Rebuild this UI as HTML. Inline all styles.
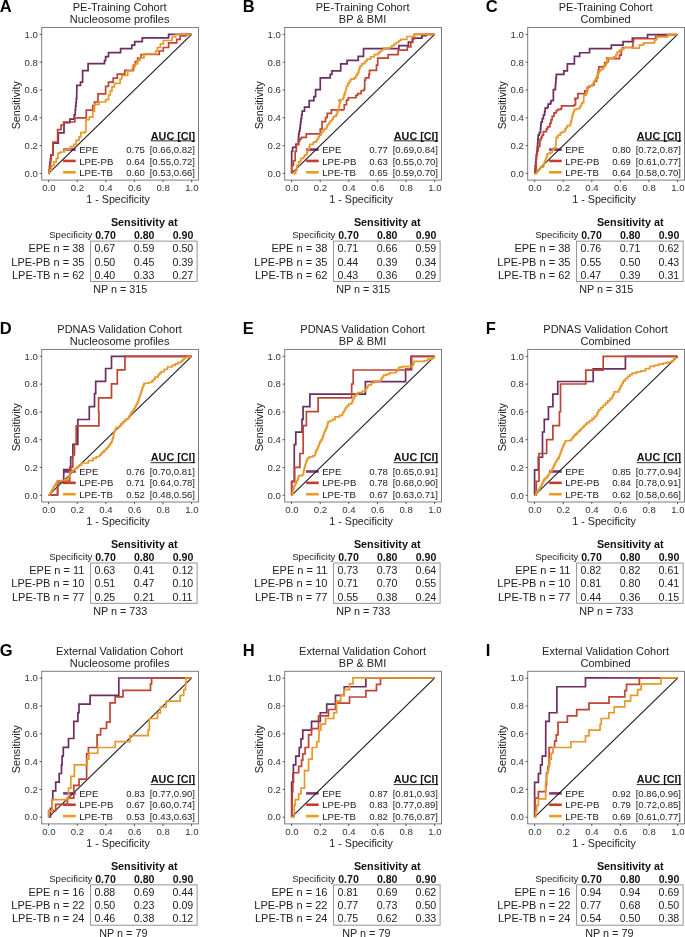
<!DOCTYPE html>
<html><head><meta charset="utf-8"><style>
html,body{margin:0;padding:0;background:#fff;width:685px;height:937px;overflow:hidden}
svg{display:block;font-family:"Liberation Sans", sans-serif;will-change:transform}
</style></head><body>
<svg width="685" height="937" viewBox="0 0 685 937">
<g transform="translate(0,0)">
<text x="-0.20" y="11.70" font-size="16.5" text-anchor="start" font-weight="bold" fill="#000">A</text>
<text x="119.60" y="11.00" font-size="11" text-anchor="middle" fill="#222">PE-Training Cohort</text>
<text x="119.60" y="23.10" font-size="11" text-anchor="middle" fill="#222">Nucleosome profiles</text>
<line x1="63.1" y1="149.60" x2="75.7" y2="149.60" stroke="#8A3377" stroke-width="2.6"/>
<line x1="63.1" y1="160.95" x2="75.7" y2="160.95" stroke="#C33C2D" stroke-width="2.6"/>
<line x1="63.1" y1="172.30" x2="75.7" y2="172.30" stroke="#E89C20" stroke-width="2.6"/>
<line x1="48.60" y1="173.40" x2="191.60" y2="34.40" stroke="#1a1a1a" stroke-width="1.1"/>
<polyline points="48.70,173.40 49.14,173.40 49.14,169.74 49.58,169.74 49.58,166.08 50.02,166.08 50.02,162.42 50.46,162.42 50.46,158.76 50.90,158.76 50.90,155.10 53.00,155.10 53.00,143.10 58.30,143.10 58.30,132.90 64.00,132.90 64.00,122.70 69.90,122.70 69.90,119.20 74.20,119.20 74.20,114.90 75.20,114.90 75.20,110.00 75.58,110.00 75.58,106.25 75.95,106.25 75.95,102.50 76.33,102.50 76.33,98.75 76.70,98.75 76.70,95.00 76.90,85.30 80.50,85.30 80.50,82.10 82.60,82.10 82.60,70.70 88.10,70.70 88.10,63.70 104.50,63.70 104.50,60.50 105.60,60.50 105.60,56.70 108.50,56.70 108.50,52.60 120.60,52.60 120.60,48.70 131.80,48.70 131.80,45.20 134.70,45.20 134.70,41.70 142.30,41.70 142.30,37.90 168.60,37.90 168.60,34.40 191.60,34.40" fill="none" stroke="#6C2D5F" stroke-width="1.7" stroke-linejoin="miter"/>
<polyline points="48.70,173.40 49.22,173.40 49.22,169.74 49.74,169.74 49.74,166.08 50.26,166.08 50.26,162.42 50.78,162.42 50.78,158.76 51.30,158.76 51.30,155.10 53.00,155.10 53.00,142.00 57.60,142.00 57.60,129.70 61.10,129.70 61.10,125.10 63.60,125.10 63.60,122.00 74.90,122.00 74.90,117.80 86.30,117.80 86.30,110.20 92.80,110.20 92.80,105.50 94.50,105.50 94.50,102.00 98.00,102.00 98.00,93.90 105.60,93.90 105.60,86.30 108.50,86.30 108.50,82.20 113.20,82.20 113.20,78.10 117.30,78.10 117.30,74.20 124.80,74.20 124.80,70.30 133.50,70.30 133.50,65.00 135.30,65.00 135.30,61.50 137.60,61.50 137.60,58.00 141.10,58.00 141.10,54.50 159.20,54.50 159.20,51.00 163.30,51.00 163.30,47.50 168.60,47.50 168.60,42.80 176.70,42.80 176.70,39.30 180.20,39.30 180.20,35.80 186.00,35.80 186.00,34.40 191.60,34.40" fill="none" stroke="#BF4434" stroke-width="1.7" stroke-linejoin="miter"/>
<polyline points="48.70,173.30 49.30,173.30 49.30,170.10 51.60,170.10 51.60,165.40 53.90,165.40 53.90,161.90 56.30,161.90 56.30,158.40 58.00,158.40 58.00,153.10 60.40,153.10 60.40,152.00 64.40,152.00 64.40,149.60 70.30,149.60 70.30,146.70 73.80,146.70 73.80,144.40 76.10,144.40 76.10,140.30 79.00,140.30 79.00,136.80 80.80,136.80 80.80,132.70 84.90,132.70 84.90,131.50 86.00,131.50 86.00,119.60 89.30,119.60 89.30,117.20 92.80,117.20 92.80,111.40 94.50,111.40 94.50,104.40 99.20,104.40 99.20,102.00 105.60,102.00 105.60,99.70 108.50,99.70 108.50,95.00 110.30,95.00 110.30,90.90 112.00,90.90 112.00,86.90 114.40,86.90 114.40,83.40 120.10,83.40 120.10,79.00 121.80,79.00 121.80,75.50 127.70,75.50 127.70,70.90 132.40,70.90 132.40,67.40 134.70,67.40 134.70,63.90 137.60,63.90 137.60,60.40 139.90,60.40 139.90,58.00 144.00,58.00 144.00,53.90 155.70,53.90 155.70,51.00 157.50,51.00 157.50,47.50 160.40,47.50 160.40,44.00 163.30,44.00 163.30,40.50 172.10,40.50 172.10,37.00 175.60,37.00 175.60,34.50 191.60,34.40" fill="none" stroke="#E8982A" stroke-width="1.7" stroke-linejoin="miter"/>
<rect x="41.7" y="27.5" width="156.8" height="152.6" fill="none" stroke="#777" stroke-width="0.95"/>
<line x1="39.6" y1="173.40" x2="41.7" y2="173.40" stroke="#333" stroke-width="0.8"/>
<line x1="48.60" y1="180.1" x2="48.60" y2="182.2" stroke="#333" stroke-width="0.8"/>
<text x="37.90" y="176.70" font-size="9.6" text-anchor="end" fill="#333">0.0</text>
<text x="48.80" y="190.80" font-size="9.6" text-anchor="middle" fill="#333">0.0</text>
<line x1="39.6" y1="145.60" x2="41.7" y2="145.60" stroke="#333" stroke-width="0.8"/>
<line x1="77.20" y1="180.1" x2="77.20" y2="182.2" stroke="#333" stroke-width="0.8"/>
<text x="37.90" y="148.90" font-size="9.6" text-anchor="end" fill="#333">0.2</text>
<text x="77.40" y="190.80" font-size="9.6" text-anchor="middle" fill="#333">0.2</text>
<line x1="39.6" y1="117.80" x2="41.7" y2="117.80" stroke="#333" stroke-width="0.8"/>
<line x1="105.80" y1="180.1" x2="105.80" y2="182.2" stroke="#333" stroke-width="0.8"/>
<text x="37.90" y="121.10" font-size="9.6" text-anchor="end" fill="#333">0.4</text>
<text x="106.00" y="190.80" font-size="9.6" text-anchor="middle" fill="#333">0.4</text>
<line x1="39.6" y1="90.00" x2="41.7" y2="90.00" stroke="#333" stroke-width="0.8"/>
<line x1="134.40" y1="180.1" x2="134.40" y2="182.2" stroke="#333" stroke-width="0.8"/>
<text x="37.90" y="93.30" font-size="9.6" text-anchor="end" fill="#333">0.6</text>
<text x="134.60" y="190.80" font-size="9.6" text-anchor="middle" fill="#333">0.6</text>
<line x1="39.6" y1="62.20" x2="41.7" y2="62.20" stroke="#333" stroke-width="0.8"/>
<line x1="163.00" y1="180.1" x2="163.00" y2="182.2" stroke="#333" stroke-width="0.8"/>
<text x="37.90" y="65.50" font-size="9.6" text-anchor="end" fill="#333">0.8</text>
<text x="163.20" y="190.80" font-size="9.6" text-anchor="middle" fill="#333">0.8</text>
<line x1="39.6" y1="34.40" x2="41.7" y2="34.40" stroke="#333" stroke-width="0.8"/>
<line x1="191.60" y1="180.1" x2="191.60" y2="182.2" stroke="#333" stroke-width="0.8"/>
<text x="37.90" y="37.70" font-size="9.6" text-anchor="end" fill="#333">1.0</text>
<text x="191.80" y="190.80" font-size="9.6" text-anchor="middle" fill="#333">1.0</text>
<text x="118.10" y="203.40" font-size="10.7" text-anchor="middle" fill="#222">1 - Specificity</text>
<text x="0" y="0" font-size="10.7" text-anchor="middle" fill="#222" transform="translate(20.3,105.3) rotate(-90)">Sensitivity</text>
<text x="195.20" y="139.50" font-size="10.8" text-anchor="end" font-weight="bold" fill="#111">AUC [CI]</text>
<line x1="150.6" y1="140.8" x2="195.2" y2="140.8" stroke="#111" stroke-width="0.9"/>
<text x="79.20" y="152.90" font-size="9.6" text-anchor="start" fill="#222">EPE</text>
<text x="126.20" y="152.90" font-size="9.6" text-anchor="start" fill="#222">0.75</text>
<text x="195.00" y="152.90" font-size="9.6" text-anchor="end" fill="#222">[0.66,0.82]</text>
<text x="79.20" y="164.50" font-size="9.6" text-anchor="start" fill="#222">LPE-PB</text>
<text x="126.20" y="164.50" font-size="9.6" text-anchor="start" fill="#222">0.64</text>
<text x="195.00" y="164.50" font-size="9.6" text-anchor="end" fill="#222">[0.55,0.72]</text>
<text x="79.20" y="175.90" font-size="9.6" text-anchor="start" fill="#222">LPE-TB</text>
<text x="126.20" y="175.90" font-size="9.6" text-anchor="start" fill="#222">0.60</text>
<text x="195.00" y="175.90" font-size="9.6" text-anchor="end" fill="#222">[0.53,0.66]</text>
<text x="144.20" y="225.80" font-size="10.8" text-anchor="middle" font-weight="bold" fill="#111">Sensitivity at</text>
<text x="92.40" y="238.10" font-size="9.6" text-anchor="end" fill="#222">Specificity</text>
<text x="95.20" y="238.90" font-size="10.6" text-anchor="start" font-weight="bold" fill="#111">0.70</text>
<text x="133.90" y="238.90" font-size="10.6" text-anchor="start" font-weight="bold" fill="#111">0.80</text>
<text x="172.70" y="238.90" font-size="10.6" text-anchor="start" font-weight="bold" fill="#111">0.90</text>
<rect x="90.6" y="241.1" width="106.5" height="40.3" fill="none" stroke="#888" stroke-width="0.9"/>
<text x="84.40" y="252.40" font-size="11" text-anchor="end" fill="#222">EPE n = 38</text>
<text x="94.60" y="252.40" font-size="10.6" text-anchor="start" fill="#222">0.67</text>
<text x="133.70" y="252.40" font-size="10.6" text-anchor="start" fill="#222">0.59</text>
<text x="172.60" y="252.40" font-size="10.6" text-anchor="start" fill="#222">0.50</text>
<text x="84.40" y="265.53" font-size="11" text-anchor="end" fill="#222">LPE-PB n = 35</text>
<text x="94.60" y="265.53" font-size="10.6" text-anchor="start" fill="#222">0.50</text>
<text x="133.70" y="265.53" font-size="10.6" text-anchor="start" fill="#222">0.45</text>
<text x="172.60" y="265.53" font-size="10.6" text-anchor="start" fill="#222">0.39</text>
<text x="84.40" y="278.66" font-size="11" text-anchor="end" fill="#222">LPE-TB n = 62</text>
<text x="94.60" y="278.66" font-size="10.6" text-anchor="start" fill="#222">0.40</text>
<text x="133.70" y="278.66" font-size="10.6" text-anchor="start" fill="#222">0.33</text>
<text x="172.60" y="278.66" font-size="10.6" text-anchor="start" fill="#222">0.27</text>
<text x="147.40" y="292.80" font-size="10.8" text-anchor="end" fill="#222">NP n = 315</text>
</g>
<g transform="translate(243,0)">
<text x="-0.20" y="11.70" font-size="16.5" text-anchor="start" font-weight="bold" fill="#000">B</text>
<text x="119.60" y="11.00" font-size="11" text-anchor="middle" fill="#222">PE-Training Cohort</text>
<text x="119.60" y="23.10" font-size="11" text-anchor="middle" fill="#222">BP &amp; BMI</text>
<line x1="63.1" y1="149.60" x2="75.7" y2="149.60" stroke="#8A3377" stroke-width="2.6"/>
<line x1="63.1" y1="160.95" x2="75.7" y2="160.95" stroke="#C33C2D" stroke-width="2.6"/>
<line x1="63.1" y1="172.30" x2="75.7" y2="172.30" stroke="#E89C20" stroke-width="2.6"/>
<line x1="48.60" y1="173.40" x2="191.60" y2="34.40" stroke="#1a1a1a" stroke-width="1.1"/>
<polyline points="48.67,173.34 48.67,151.39 49.61,151.39 49.61,147.30 52.76,147.30 52.76,144.38 55.09,144.38 55.29,144.38 55.29,140.88 55.48,140.88 55.48,137.37 55.68,137.37 55.68,133.87 56.27,133.87 56.27,130.95 56.85,130.95 56.85,128.03 57.24,128.03 57.24,124.92 57.62,124.92 57.62,121.80 58.01,121.80 58.01,118.69 58.59,118.69 58.59,114.89 59.18,114.89 59.18,111.09 61.52,111.09 61.52,107.08 66.19,107.08 66.19,100.66 70.86,100.66 70.86,100.07 70.86,96.57 72.61,96.57 72.61,89.56 77.28,89.56 77.28,77.88 87.21,77.88 87.21,74.38 88.96,74.38 88.96,70.88 97.72,70.88 97.72,63.87 104.15,63.87 104.15,60.36 115.24,60.36 115.24,56.28 120.50,56.28 120.50,48.69 121.30,48.70 155.90,48.70 155.90,45.60 165.40,45.60 165.40,42.20 169.50,42.20 169.50,38.20 178.90,38.20 178.90,35.60 183.00,35.60 183.00,34.40 191.60,34.40" fill="none" stroke="#6C2D5F" stroke-width="1.7" stroke-linejoin="miter"/>
<polyline points="48.67,173.34 48.67,165.40 50.42,165.40 50.42,160.73 52.18,160.73 52.18,151.39 53.34,151.39 53.34,144.38 55.68,144.38 55.68,140.88 56.85,140.88 56.85,138.54 58.60,138.54 58.60,137.37 63.27,137.37 63.27,133.87 77.28,133.87 77.28,129.20 79.04,129.20 79.04,121.61 82.54,121.61 82.54,117.52 84.29,117.52 84.29,113.43 88.38,113.43 88.38,109.93 101.23,109.93 101.23,110.00 101.23,104.74 103.56,104.74 103.56,100.07 105.31,100.07 105.31,98.91 105.31,97.74 112.91,97.74 112.91,95.40 114.66,95.40 114.66,93.65 118.16,93.65 118.16,90.73 120.50,90.73 120.50,89.56 121.66,89.56 121.66,80.22 122.42,80.22 122.42,77.88 125.93,77.88 125.93,74.38 126.51,74.38 126.51,70.29 133.52,70.29 133.52,65.04 134.69,65.04 134.69,58.03 145.20,58.03 145.20,54.53 155.12,54.53 155.20,54.50 155.20,50.10 164.30,50.10 164.30,46.90 167.80,46.90 167.80,42.30 169.50,42.30 169.50,38.80 171.30,38.80 171.30,34.40 191.60,34.40" fill="none" stroke="#BF4434" stroke-width="1.7" stroke-linejoin="miter"/>
<polyline points="48.67,173.34 52.76,173.34 52.76,170.07 53.93,170.07 53.93,165.40 55.68,165.40 55.68,161.90 57.43,161.90 57.43,160.73 58.01,160.73 58.01,158.39 60.35,158.39 60.35,157.23 61.52,157.23 61.52,154.89 63.85,154.89 63.85,152.55 64.44,152.55 64.44,150.80 65.02,150.80 65.02,149.05 66.19,149.05 66.19,146.72 66.77,146.72 66.77,144.38 69.69,144.38 70.28,144.38 70.28,142.04 73.20,142.04 73.20,140.29 74.36,140.29 74.36,138.54 75.53,138.54 75.53,136.79 76.12,136.79 76.12,135.04 77.87,135.04 77.87,133.87 78.45,133.87 78.45,131.53 80.20,131.53 80.20,130.36 81.37,130.36 81.37,128.61 83.71,128.61 83.71,126.86 84.29,126.86 84.29,124.53 86.04,124.53 86.04,122.77 87.21,122.77 87.21,121.02 88.96,121.02 88.96,119.27 90.13,119.27 90.13,117.52 90.72,117.52 90.72,116.35 93.05,116.35 93.05,115.18 93.64,115.18 93.64,114.01 94.22,114.01 94.22,111.68 95.39,111.68 95.39,109.34 95.97,109.34 95.97,107.01 96.26,107.01 96.26,105.25 96.55,105.25 96.55,103.50 97.13,103.50 97.13,101.75 97.72,101.75 97.72,100.00 95.97,100.00 95.97,101.24 97.72,101.24 97.72,99.49 100.06,99.49 100.06,97.74 100.84,97.74 100.84,95.40 101.61,95.40 101.61,93.07 102.39,93.07 102.39,90.73 102.97,90.73 102.97,88.40 103.56,88.40 103.56,86.06 104.73,86.06 104.73,83.72 106.19,83.72 106.19,81.38 107.65,81.38 107.65,79.05 111.15,79.05 111.15,77.88 112.91,77.88 112.91,75.55 114.07,75.55 114.07,73.80 115.24,73.80 115.24,72.04 115.82,72.04 115.82,70.09 116.41,70.09 116.41,68.15 116.99,68.15 116.99,66.20 118.74,66.20 118.74,63.87 121.08,63.87 121.08,62.70 122.54,62.70 122.54,60.95 124.00,60.95 124.00,59.20 127.68,59.20 127.68,56.86 131.18,56.86 131.18,54.53 134.69,54.53 134.69,53.36 136.44,53.36 136.44,51.61 138.19,51.61 138.19,49.85 140.53,49.85 140.53,48.10 146.36,48.10 146.36,47.52 148.70,47.52 148.70,45.77 151.04,45.77 151.04,44.01 153.37,44.01 153.37,42.26 155.71,42.26 155.71,40.51 158.04,40.51 158.04,39.34 163.88,39.34 163.88,38.18 164.00,38.50 164.00,36.50 171.30,36.50 171.30,34.40 191.60,34.40" fill="none" stroke="#E8982A" stroke-width="1.7" stroke-linejoin="miter"/>
<rect x="41.7" y="27.5" width="156.8" height="152.6" fill="none" stroke="#777" stroke-width="0.95"/>
<line x1="39.6" y1="173.40" x2="41.7" y2="173.40" stroke="#333" stroke-width="0.8"/>
<line x1="48.60" y1="180.1" x2="48.60" y2="182.2" stroke="#333" stroke-width="0.8"/>
<text x="37.90" y="176.70" font-size="9.6" text-anchor="end" fill="#333">0.0</text>
<text x="48.80" y="190.80" font-size="9.6" text-anchor="middle" fill="#333">0.0</text>
<line x1="39.6" y1="145.60" x2="41.7" y2="145.60" stroke="#333" stroke-width="0.8"/>
<line x1="77.20" y1="180.1" x2="77.20" y2="182.2" stroke="#333" stroke-width="0.8"/>
<text x="37.90" y="148.90" font-size="9.6" text-anchor="end" fill="#333">0.2</text>
<text x="77.40" y="190.80" font-size="9.6" text-anchor="middle" fill="#333">0.2</text>
<line x1="39.6" y1="117.80" x2="41.7" y2="117.80" stroke="#333" stroke-width="0.8"/>
<line x1="105.80" y1="180.1" x2="105.80" y2="182.2" stroke="#333" stroke-width="0.8"/>
<text x="37.90" y="121.10" font-size="9.6" text-anchor="end" fill="#333">0.4</text>
<text x="106.00" y="190.80" font-size="9.6" text-anchor="middle" fill="#333">0.4</text>
<line x1="39.6" y1="90.00" x2="41.7" y2="90.00" stroke="#333" stroke-width="0.8"/>
<line x1="134.40" y1="180.1" x2="134.40" y2="182.2" stroke="#333" stroke-width="0.8"/>
<text x="37.90" y="93.30" font-size="9.6" text-anchor="end" fill="#333">0.6</text>
<text x="134.60" y="190.80" font-size="9.6" text-anchor="middle" fill="#333">0.6</text>
<line x1="39.6" y1="62.20" x2="41.7" y2="62.20" stroke="#333" stroke-width="0.8"/>
<line x1="163.00" y1="180.1" x2="163.00" y2="182.2" stroke="#333" stroke-width="0.8"/>
<text x="37.90" y="65.50" font-size="9.6" text-anchor="end" fill="#333">0.8</text>
<text x="163.20" y="190.80" font-size="9.6" text-anchor="middle" fill="#333">0.8</text>
<line x1="39.6" y1="34.40" x2="41.7" y2="34.40" stroke="#333" stroke-width="0.8"/>
<line x1="191.60" y1="180.1" x2="191.60" y2="182.2" stroke="#333" stroke-width="0.8"/>
<text x="37.90" y="37.70" font-size="9.6" text-anchor="end" fill="#333">1.0</text>
<text x="191.80" y="190.80" font-size="9.6" text-anchor="middle" fill="#333">1.0</text>
<text x="118.10" y="203.40" font-size="10.7" text-anchor="middle" fill="#222">1 - Specificity</text>
<text x="0" y="0" font-size="10.7" text-anchor="middle" fill="#222" transform="translate(20.3,105.3) rotate(-90)">Sensitivity</text>
<text x="195.20" y="139.50" font-size="10.8" text-anchor="end" font-weight="bold" fill="#111">AUC [CI]</text>
<line x1="150.6" y1="140.8" x2="195.2" y2="140.8" stroke="#111" stroke-width="0.9"/>
<text x="79.20" y="152.90" font-size="9.6" text-anchor="start" fill="#222">EPE</text>
<text x="126.20" y="152.90" font-size="9.6" text-anchor="start" fill="#222">0.77</text>
<text x="195.00" y="152.90" font-size="9.6" text-anchor="end" fill="#222">[0.69,0.84]</text>
<text x="79.20" y="164.50" font-size="9.6" text-anchor="start" fill="#222">LPE-PB</text>
<text x="126.20" y="164.50" font-size="9.6" text-anchor="start" fill="#222">0.63</text>
<text x="195.00" y="164.50" font-size="9.6" text-anchor="end" fill="#222">[0.55,0.70]</text>
<text x="79.20" y="175.90" font-size="9.6" text-anchor="start" fill="#222">LPE-TB</text>
<text x="126.20" y="175.90" font-size="9.6" text-anchor="start" fill="#222">0.65</text>
<text x="195.00" y="175.90" font-size="9.6" text-anchor="end" fill="#222">[0.59,0.70]</text>
<text x="144.20" y="225.80" font-size="10.8" text-anchor="middle" font-weight="bold" fill="#111">Sensitivity at</text>
<text x="92.40" y="238.10" font-size="9.6" text-anchor="end" fill="#222">Specificity</text>
<text x="95.20" y="238.90" font-size="10.6" text-anchor="start" font-weight="bold" fill="#111">0.70</text>
<text x="133.90" y="238.90" font-size="10.6" text-anchor="start" font-weight="bold" fill="#111">0.80</text>
<text x="172.70" y="238.90" font-size="10.6" text-anchor="start" font-weight="bold" fill="#111">0.90</text>
<rect x="90.6" y="241.1" width="106.5" height="40.3" fill="none" stroke="#888" stroke-width="0.9"/>
<text x="84.40" y="252.40" font-size="11" text-anchor="end" fill="#222">EPE n = 38</text>
<text x="94.60" y="252.40" font-size="10.6" text-anchor="start" fill="#222">0.71</text>
<text x="133.70" y="252.40" font-size="10.6" text-anchor="start" fill="#222">0.66</text>
<text x="172.60" y="252.40" font-size="10.6" text-anchor="start" fill="#222">0.59</text>
<text x="84.40" y="265.53" font-size="11" text-anchor="end" fill="#222">LPE-PB n = 35</text>
<text x="94.60" y="265.53" font-size="10.6" text-anchor="start" fill="#222">0.44</text>
<text x="133.70" y="265.53" font-size="10.6" text-anchor="start" fill="#222">0.39</text>
<text x="172.60" y="265.53" font-size="10.6" text-anchor="start" fill="#222">0.34</text>
<text x="84.40" y="278.66" font-size="11" text-anchor="end" fill="#222">LPE-TB n = 62</text>
<text x="94.60" y="278.66" font-size="10.6" text-anchor="start" fill="#222">0.43</text>
<text x="133.70" y="278.66" font-size="10.6" text-anchor="start" fill="#222">0.36</text>
<text x="172.60" y="278.66" font-size="10.6" text-anchor="start" fill="#222">0.29</text>
<text x="147.40" y="292.80" font-size="10.8" text-anchor="end" fill="#222">NP n = 315</text>
</g>
<g transform="translate(486,0)">
<text x="-0.20" y="11.70" font-size="16.5" text-anchor="start" font-weight="bold" fill="#000">C</text>
<text x="119.60" y="11.00" font-size="11" text-anchor="middle" fill="#222">PE-Training Cohort</text>
<text x="119.60" y="23.10" font-size="11" text-anchor="middle" fill="#222">Combined</text>
<line x1="63.1" y1="149.60" x2="75.7" y2="149.60" stroke="#8A3377" stroke-width="2.6"/>
<line x1="63.1" y1="160.95" x2="75.7" y2="160.95" stroke="#C33C2D" stroke-width="2.6"/>
<line x1="63.1" y1="172.30" x2="75.7" y2="172.30" stroke="#E89C20" stroke-width="2.6"/>
<line x1="48.60" y1="173.40" x2="191.60" y2="34.40" stroke="#1a1a1a" stroke-width="1.1"/>
<polyline points="48.67,173.34 48.97,173.34 48.97,169.37 49.26,169.37 49.26,165.40 49.65,165.40 49.65,161.90 50.03,161.90 50.03,158.39 50.42,158.39 50.42,154.89 50.81,154.89 50.81,151.00 51.20,151.00 51.20,147.10 51.59,147.10 51.59,143.21 51.89,143.21 51.89,139.12 52.18,139.12 52.18,135.04 53.34,135.04 53.34,132.70 54.51,132.70 54.51,128.03 54.80,128.03 54.80,125.11 55.09,125.11 55.09,122.19 56.26,122.19 56.26,118.69 57.43,118.69 57.43,115.18 58.60,115.18 58.60,111.68 59.18,111.68 59.18,108.18 61.52,108.18 61.52,107.01 62.10,107.01 62.10,104.09 64.44,104.09 64.44,102.92 65.02,102.92 65.02,100.58 67.36,100.66 67.36,89.56 69.11,89.56 69.40,89.56 69.40,85.77 69.69,85.77 69.69,81.97 69.99,81.97 69.99,78.17 70.28,78.17 70.28,74.38 77.87,74.38 77.87,70.88 81.37,70.88 81.37,63.87 88.38,63.87 88.38,56.28 93.64,56.28 93.64,52.77 103.56,52.77 103.56,48.69 124.00,48.69 125.34,48.69 125.34,45.18 137.02,45.18 137.02,41.68 146.36,41.68 146.36,38.18 161.55,38.18 161.55,34.67 191.33,34.67" fill="none" stroke="#6C2D5F" stroke-width="1.7" stroke-linejoin="miter"/>
<polyline points="48.67,173.34 49.84,173.34 49.84,172.41 49.98,172.41 49.98,168.03 50.13,168.03 50.13,163.65 50.28,163.65 50.28,159.27 50.42,159.27 50.42,154.89 51.30,154.89 51.30,150.81 52.18,150.81 52.18,146.72 53.34,146.72 53.34,145.55 53.93,145.55 53.93,139.71 55.09,139.71 55.09,137.37 56.26,137.37 56.26,135.04 57.43,135.04 57.43,131.53 60.35,131.53 60.35,129.20 61.52,129.20 61.52,126.86 63.85,126.86 63.85,123.36 65.02,123.36 65.02,119.85 66.19,119.85 66.19,116.35 67.94,116.35 67.94,112.85 70.28,112.85 70.28,110.51 72.03,110.51 72.03,109.34 74.95,109.34 74.95,108.76 75.53,108.76 75.53,105.84 88.38,105.84 88.38,104.67 89.55,104.67 89.55,100.00 88.96,100.00 88.96,98.32 91.88,98.32 91.88,93.65 97.72,93.65 98.89,93.65 98.89,90.73 101.23,90.73 101.23,87.23 103.56,87.23 103.56,86.06 105.90,86.06 105.90,84.89 108.23,84.89 108.23,81.39 110.57,81.39 110.57,77.88 111.74,77.88 111.74,73.21 112.32,73.21 112.32,70.00 112.91,70.00 112.91,66.79 117.58,66.79 117.58,66.20 118.74,66.20 118.74,62.70 121.08,62.70 121.08,61.53 122.25,61.53 122.25,58.03 120.67,58.03 120.67,58.61 133.52,58.61 133.52,55.11 134.69,55.11 135.27,55.11 135.27,49.85 136.44,49.85 136.44,47.52 146.36,47.52 146.36,46.93 146.95,46.93 146.95,41.68 147.53,41.68 147.53,38.76 169.72,38.76 169.72,36.42 173.23,36.42 173.23,35.84 180.23,35.84 180.23,34.67 191.33,34.67" fill="none" stroke="#BF4434" stroke-width="1.7" stroke-linejoin="miter"/>
<polyline points="48.67,173.34 51.01,173.34 51.01,171.24 52.76,171.24 52.76,169.19 54.51,169.19 54.51,167.15 57.43,167.15 57.43,165.40 58.02,165.40 58.02,163.06 58.60,163.06 58.60,160.73 59.48,160.73 59.48,158.98 60.35,158.98 60.35,157.23 60.94,157.23 60.94,155.47 61.52,155.47 61.52,153.72 63.85,153.72 63.85,152.55 66.19,152.55 66.19,150.22 67.94,150.22 67.94,147.88 69.69,147.88 69.69,144.96 69.89,144.96 69.89,142.43 70.08,142.43 70.08,139.90 70.28,139.90 70.28,137.37 72.03,137.37 72.03,135.04 74.36,135.04 74.36,132.70 76.70,132.70 76.70,131.53 79.04,131.53 79.04,129.20 80.21,129.20 80.21,127.44 81.37,127.44 81.37,125.69 84.29,125.69 84.29,123.36 84.88,123.36 84.88,121.60 85.46,121.60 85.46,119.85 85.75,119.85 85.75,118.10 86.04,118.10 86.04,116.35 86.62,116.35 86.62,114.60 87.21,114.60 87.21,112.85 87.79,112.85 87.79,111.09 88.38,111.09 88.38,109.34 90.72,109.34 90.72,108.76 93.05,108.76 93.05,108.18 94.22,108.18 94.22,105.84 95.39,105.84 95.39,103.50 96.55,103.50 96.55,102.34 97.72,102.34 97.72,100.00 97.72,95.40 100.06,95.40 100.06,93.07 101.23,93.07 101.23,90.73 101.81,90.73 101.81,88.40 102.39,88.40 102.39,86.06 105.90,86.06 105.90,84.89 107.06,84.89 107.06,83.14 108.23,83.14 108.23,81.39 109.40,81.39 109.40,79.06 110.57,79.06 110.57,76.72 111.16,76.72 111.16,74.97 111.74,74.97 111.74,73.21 112.91,73.21 112.91,71.46 114.07,71.46 114.07,69.71 116.41,69.71 116.41,68.54 117.57,68.54 117.57,66.79 118.74,66.79 118.74,65.04 119.91,65.04 119.91,63.87 120.49,63.87 120.49,61.92 121.08,61.92 121.08,59.98 121.66,59.98 121.66,58.03 123.01,58.03 127.68,58.03 127.68,56.86 130.01,56.86 130.01,54.53 131.18,54.53 131.18,52.19 133.52,52.19 133.52,50.44 135.85,50.44 135.85,48.69 138.19,48.69 138.19,47.52 146.36,47.52 146.36,48.10 153.37,48.10 153.37,47.52 153.37,45.18 156.88,45.18 156.88,44.01 158.04,44.01 158.04,42.85 167.39,42.85 168.55,42.85 168.55,40.51 169.72,40.51 169.72,39.34 170.89,39.34 170.89,37.01 181.40,37.01 181.40,36.42 181.99,36.42 181.99,34.67 191.33,34.67" fill="none" stroke="#E8982A" stroke-width="1.7" stroke-linejoin="miter"/>
<rect x="41.7" y="27.5" width="156.8" height="152.6" fill="none" stroke="#777" stroke-width="0.95"/>
<line x1="39.6" y1="173.40" x2="41.7" y2="173.40" stroke="#333" stroke-width="0.8"/>
<line x1="48.60" y1="180.1" x2="48.60" y2="182.2" stroke="#333" stroke-width="0.8"/>
<text x="37.90" y="176.70" font-size="9.6" text-anchor="end" fill="#333">0.0</text>
<text x="48.80" y="190.80" font-size="9.6" text-anchor="middle" fill="#333">0.0</text>
<line x1="39.6" y1="145.60" x2="41.7" y2="145.60" stroke="#333" stroke-width="0.8"/>
<line x1="77.20" y1="180.1" x2="77.20" y2="182.2" stroke="#333" stroke-width="0.8"/>
<text x="37.90" y="148.90" font-size="9.6" text-anchor="end" fill="#333">0.2</text>
<text x="77.40" y="190.80" font-size="9.6" text-anchor="middle" fill="#333">0.2</text>
<line x1="39.6" y1="117.80" x2="41.7" y2="117.80" stroke="#333" stroke-width="0.8"/>
<line x1="105.80" y1="180.1" x2="105.80" y2="182.2" stroke="#333" stroke-width="0.8"/>
<text x="37.90" y="121.10" font-size="9.6" text-anchor="end" fill="#333">0.4</text>
<text x="106.00" y="190.80" font-size="9.6" text-anchor="middle" fill="#333">0.4</text>
<line x1="39.6" y1="90.00" x2="41.7" y2="90.00" stroke="#333" stroke-width="0.8"/>
<line x1="134.40" y1="180.1" x2="134.40" y2="182.2" stroke="#333" stroke-width="0.8"/>
<text x="37.90" y="93.30" font-size="9.6" text-anchor="end" fill="#333">0.6</text>
<text x="134.60" y="190.80" font-size="9.6" text-anchor="middle" fill="#333">0.6</text>
<line x1="39.6" y1="62.20" x2="41.7" y2="62.20" stroke="#333" stroke-width="0.8"/>
<line x1="163.00" y1="180.1" x2="163.00" y2="182.2" stroke="#333" stroke-width="0.8"/>
<text x="37.90" y="65.50" font-size="9.6" text-anchor="end" fill="#333">0.8</text>
<text x="163.20" y="190.80" font-size="9.6" text-anchor="middle" fill="#333">0.8</text>
<line x1="39.6" y1="34.40" x2="41.7" y2="34.40" stroke="#333" stroke-width="0.8"/>
<line x1="191.60" y1="180.1" x2="191.60" y2="182.2" stroke="#333" stroke-width="0.8"/>
<text x="37.90" y="37.70" font-size="9.6" text-anchor="end" fill="#333">1.0</text>
<text x="191.80" y="190.80" font-size="9.6" text-anchor="middle" fill="#333">1.0</text>
<text x="118.10" y="203.40" font-size="10.7" text-anchor="middle" fill="#222">1 - Specificity</text>
<text x="0" y="0" font-size="10.7" text-anchor="middle" fill="#222" transform="translate(20.3,105.3) rotate(-90)">Sensitivity</text>
<text x="195.20" y="139.50" font-size="10.8" text-anchor="end" font-weight="bold" fill="#111">AUC [CI]</text>
<line x1="150.6" y1="140.8" x2="195.2" y2="140.8" stroke="#111" stroke-width="0.9"/>
<text x="79.20" y="152.90" font-size="9.6" text-anchor="start" fill="#222">EPE</text>
<text x="126.20" y="152.90" font-size="9.6" text-anchor="start" fill="#222">0.80</text>
<text x="195.00" y="152.90" font-size="9.6" text-anchor="end" fill="#222">[0.72,0.87]</text>
<text x="79.20" y="164.50" font-size="9.6" text-anchor="start" fill="#222">LPE-PB</text>
<text x="126.20" y="164.50" font-size="9.6" text-anchor="start" fill="#222">0.69</text>
<text x="195.00" y="164.50" font-size="9.6" text-anchor="end" fill="#222">[0.61,0.77]</text>
<text x="79.20" y="175.90" font-size="9.6" text-anchor="start" fill="#222">LPE-TB</text>
<text x="126.20" y="175.90" font-size="9.6" text-anchor="start" fill="#222">0.64</text>
<text x="195.00" y="175.90" font-size="9.6" text-anchor="end" fill="#222">[0.58,0.70]</text>
<text x="144.20" y="225.80" font-size="10.8" text-anchor="middle" font-weight="bold" fill="#111">Sensitivity at</text>
<text x="92.40" y="238.10" font-size="9.6" text-anchor="end" fill="#222">Specificity</text>
<text x="95.20" y="238.90" font-size="10.6" text-anchor="start" font-weight="bold" fill="#111">0.70</text>
<text x="133.90" y="238.90" font-size="10.6" text-anchor="start" font-weight="bold" fill="#111">0.80</text>
<text x="172.70" y="238.90" font-size="10.6" text-anchor="start" font-weight="bold" fill="#111">0.90</text>
<rect x="90.6" y="241.1" width="106.5" height="40.3" fill="none" stroke="#888" stroke-width="0.9"/>
<text x="84.40" y="252.40" font-size="11" text-anchor="end" fill="#222">EPE n = 38</text>
<text x="94.60" y="252.40" font-size="10.6" text-anchor="start" fill="#222">0.76</text>
<text x="133.70" y="252.40" font-size="10.6" text-anchor="start" fill="#222">0.71</text>
<text x="172.60" y="252.40" font-size="10.6" text-anchor="start" fill="#222">0.62</text>
<text x="84.40" y="265.53" font-size="11" text-anchor="end" fill="#222">LPE-PB n = 35</text>
<text x="94.60" y="265.53" font-size="10.6" text-anchor="start" fill="#222">0.55</text>
<text x="133.70" y="265.53" font-size="10.6" text-anchor="start" fill="#222">0.50</text>
<text x="172.60" y="265.53" font-size="10.6" text-anchor="start" fill="#222">0.43</text>
<text x="84.40" y="278.66" font-size="11" text-anchor="end" fill="#222">LPE-TB n = 62</text>
<text x="94.60" y="278.66" font-size="10.6" text-anchor="start" fill="#222">0.47</text>
<text x="133.70" y="278.66" font-size="10.6" text-anchor="start" fill="#222">0.39</text>
<text x="172.60" y="278.66" font-size="10.6" text-anchor="start" fill="#222">0.31</text>
<text x="147.40" y="292.80" font-size="10.8" text-anchor="end" fill="#222">NP n = 315</text>
</g>
<g transform="translate(0,321.9)">
<text x="-0.20" y="11.70" font-size="16.5" text-anchor="start" font-weight="bold" fill="#000">D</text>
<text x="119.60" y="11.00" font-size="11" text-anchor="middle" fill="#222">PDNAS Validation Cohort</text>
<text x="119.60" y="23.10" font-size="11" text-anchor="middle" fill="#222">Nucleosome profiles</text>
<line x1="63.1" y1="149.60" x2="75.7" y2="149.60" stroke="#8A3377" stroke-width="2.6"/>
<line x1="63.1" y1="160.95" x2="75.7" y2="160.95" stroke="#C33C2D" stroke-width="2.6"/>
<line x1="63.1" y1="172.30" x2="75.7" y2="172.30" stroke="#E89C20" stroke-width="2.6"/>
<line x1="48.60" y1="173.40" x2="191.60" y2="34.40" stroke="#1a1a1a" stroke-width="1.1"/>
<polyline points="48.80,173.10 57.60,173.10 57.60,160.50 63.70,160.50 63.70,147.80 70.70,147.80 70.70,135.10 72.90,135.10 72.90,122.50 77.80,122.50 77.80,97.60 89.30,97.60 89.30,84.70 94.50,84.70 94.50,71.80 95.70,71.80 95.70,59.40 105.60,59.40 105.60,46.60 111.50,46.60 111.50,34.50 191.60,34.50" fill="none" stroke="#6C2D5F" stroke-width="1.7" stroke-linejoin="miter"/>
<polyline points="48.80,173.00 57.60,173.00 57.60,159.10 69.80,159.10 69.80,145.20 72.80,145.20 72.80,133.10 74.50,133.10 74.50,122.10 76.20,122.10 76.20,104.00 98.90,104.00 98.90,89.90 98.60,89.90 98.60,76.00 111.50,76.00 111.50,62.00 117.30,62.00 117.30,48.00 124.90,48.00 124.90,34.50 191.60,34.50" fill="none" stroke="#BF4434" stroke-width="1.7" stroke-linejoin="miter"/>
<polyline points="48.80,173.00 49.80,173.00 49.80,171.35 50.80,171.35 50.80,169.70 51.80,169.70 51.80,168.05 52.80,168.05 52.80,166.40 53.60,166.40 53.60,164.70 54.77,164.70 54.77,162.93 55.93,162.93 55.93,161.17 57.10,161.17 57.10,159.40 61.50,159.40 61.50,158.50 65.00,158.50 65.00,157.70 67.60,157.70 67.60,156.80 68.35,156.80 68.35,155.08 69.10,155.08 69.10,153.35 69.85,153.35 69.85,151.62 70.60,151.62 70.60,149.90 72.85,149.90 72.85,148.25 75.10,148.25 75.10,146.60 77.30,146.60 77.30,144.77 79.50,144.77 79.50,142.93 81.70,142.93 81.70,141.10 88.40,141.10 88.40,138.80 93.09,138.80 93.09,136.42 96.19,136.42 96.19,134.87 99.28,134.87 99.28,133.33 100.83,133.33 100.83,131.78 102.38,131.78 102.38,130.23 103.92,130.23 103.92,128.69 105.47,128.69 105.47,127.14 107.02,127.14 107.02,125.59 108.57,125.59 108.57,124.04 109.60,124.04 109.60,122.49 110.63,122.49 110.63,120.95 111.66,120.95 111.66,119.40 112.18,119.40 112.18,117.85 112.69,117.85 112.69,116.31 113.21,116.31 113.21,114.76 113.47,114.76 113.47,113.21 113.73,113.21 113.73,111.66 113.99,111.66 113.99,110.11 114.76,110.11 114.76,108.56 115.54,108.56 115.54,107.02 116.31,107.02 116.31,105.47 119.40,105.47 119.40,103.92 120.95,103.92 120.95,101.99 122.50,101.99 122.50,100.06 124.43,100.06 124.43,98.51 126.36,98.51 126.36,96.96 128.69,96.96 128.69,94.64 129.72,94.64 129.72,93.09 130.75,93.09 130.75,91.55 131.78,91.55 131.78,90.00 132.81,90.00 132.81,88.45 133.85,88.45 133.85,86.91 134.88,86.91 134.88,85.36 135.65,85.36 135.65,83.81 136.42,83.81 136.42,82.26 137.19,82.26 137.19,80.72 137.97,80.72 137.97,79.17 138.49,79.17 138.49,77.62 139.00,77.62 139.00,76.07 139.52,76.07 139.52,74.52 140.04,74.52 140.04,72.97 140.55,72.97 140.55,71.43 141.07,71.43 141.07,69.88 141.58,69.88 141.58,68.33 142.10,68.33 142.10,66.79 142.61,66.79 142.61,65.24 143.38,65.24 143.38,63.30 144.16,63.30 144.16,61.37 148.80,61.37 148.80,60.60 151.90,60.60 151.90,59.05 153.45,59.05 153.45,57.50 154.99,57.50 154.99,55.18 158.09,55.18 158.09,52.86 159.63,52.86 159.63,51.31 161.18,51.31 161.18,49.76 164.28,49.76 164.28,47.44 167.37,47.44 167.37,45.12 172.01,45.12 172.01,43.57 175.11,43.57 175.11,42.03 178.20,42.03 178.20,40.48 181.30,40.48 181.30,38.93 182.85,38.93 182.85,37.38 184.39,37.38 184.39,35.84 187.49,35.84 187.49,35.06 190.58,35.06 190.58,34.29" fill="none" stroke="#E8982A" stroke-width="1.7" stroke-linejoin="miter"/>
<rect x="41.7" y="27.5" width="156.8" height="152.6" fill="none" stroke="#777" stroke-width="0.95"/>
<line x1="39.6" y1="173.40" x2="41.7" y2="173.40" stroke="#333" stroke-width="0.8"/>
<line x1="48.60" y1="180.1" x2="48.60" y2="182.2" stroke="#333" stroke-width="0.8"/>
<text x="37.90" y="176.70" font-size="9.6" text-anchor="end" fill="#333">0.0</text>
<text x="48.80" y="190.80" font-size="9.6" text-anchor="middle" fill="#333">0.0</text>
<line x1="39.6" y1="145.60" x2="41.7" y2="145.60" stroke="#333" stroke-width="0.8"/>
<line x1="77.20" y1="180.1" x2="77.20" y2="182.2" stroke="#333" stroke-width="0.8"/>
<text x="37.90" y="148.90" font-size="9.6" text-anchor="end" fill="#333">0.2</text>
<text x="77.40" y="190.80" font-size="9.6" text-anchor="middle" fill="#333">0.2</text>
<line x1="39.6" y1="117.80" x2="41.7" y2="117.80" stroke="#333" stroke-width="0.8"/>
<line x1="105.80" y1="180.1" x2="105.80" y2="182.2" stroke="#333" stroke-width="0.8"/>
<text x="37.90" y="121.10" font-size="9.6" text-anchor="end" fill="#333">0.4</text>
<text x="106.00" y="190.80" font-size="9.6" text-anchor="middle" fill="#333">0.4</text>
<line x1="39.6" y1="90.00" x2="41.7" y2="90.00" stroke="#333" stroke-width="0.8"/>
<line x1="134.40" y1="180.1" x2="134.40" y2="182.2" stroke="#333" stroke-width="0.8"/>
<text x="37.90" y="93.30" font-size="9.6" text-anchor="end" fill="#333">0.6</text>
<text x="134.60" y="190.80" font-size="9.6" text-anchor="middle" fill="#333">0.6</text>
<line x1="39.6" y1="62.20" x2="41.7" y2="62.20" stroke="#333" stroke-width="0.8"/>
<line x1="163.00" y1="180.1" x2="163.00" y2="182.2" stroke="#333" stroke-width="0.8"/>
<text x="37.90" y="65.50" font-size="9.6" text-anchor="end" fill="#333">0.8</text>
<text x="163.20" y="190.80" font-size="9.6" text-anchor="middle" fill="#333">0.8</text>
<line x1="39.6" y1="34.40" x2="41.7" y2="34.40" stroke="#333" stroke-width="0.8"/>
<line x1="191.60" y1="180.1" x2="191.60" y2="182.2" stroke="#333" stroke-width="0.8"/>
<text x="37.90" y="37.70" font-size="9.6" text-anchor="end" fill="#333">1.0</text>
<text x="191.80" y="190.80" font-size="9.6" text-anchor="middle" fill="#333">1.0</text>
<text x="118.10" y="203.40" font-size="10.7" text-anchor="middle" fill="#222">1 - Specificity</text>
<text x="0" y="0" font-size="10.7" text-anchor="middle" fill="#222" transform="translate(20.3,105.3) rotate(-90)">Sensitivity</text>
<text x="195.20" y="139.50" font-size="10.8" text-anchor="end" font-weight="bold" fill="#111">AUC [CI]</text>
<line x1="150.6" y1="140.8" x2="195.2" y2="140.8" stroke="#111" stroke-width="0.9"/>
<text x="79.20" y="152.90" font-size="9.6" text-anchor="start" fill="#222">EPE</text>
<text x="126.20" y="152.90" font-size="9.6" text-anchor="start" fill="#222">0.76</text>
<text x="195.00" y="152.90" font-size="9.6" text-anchor="end" fill="#222">[0.70,0.81]</text>
<text x="79.20" y="164.50" font-size="9.6" text-anchor="start" fill="#222">LPE-PB</text>
<text x="126.20" y="164.50" font-size="9.6" text-anchor="start" fill="#222">0.71</text>
<text x="195.00" y="164.50" font-size="9.6" text-anchor="end" fill="#222">[0.64,0.78]</text>
<text x="79.20" y="175.90" font-size="9.6" text-anchor="start" fill="#222">LPE-TB</text>
<text x="126.20" y="175.90" font-size="9.6" text-anchor="start" fill="#222">0.52</text>
<text x="195.00" y="175.90" font-size="9.6" text-anchor="end" fill="#222">[0.48,0.56]</text>
<text x="144.20" y="225.80" font-size="10.8" text-anchor="middle" font-weight="bold" fill="#111">Sensitivity at</text>
<text x="92.40" y="238.10" font-size="9.6" text-anchor="end" fill="#222">Specificity</text>
<text x="95.20" y="238.90" font-size="10.6" text-anchor="start" font-weight="bold" fill="#111">0.70</text>
<text x="133.90" y="238.90" font-size="10.6" text-anchor="start" font-weight="bold" fill="#111">0.80</text>
<text x="172.70" y="238.90" font-size="10.6" text-anchor="start" font-weight="bold" fill="#111">0.90</text>
<rect x="90.6" y="241.1" width="106.5" height="40.3" fill="none" stroke="#888" stroke-width="0.9"/>
<text x="84.40" y="252.40" font-size="11" text-anchor="end" fill="#222">EPE n = 11</text>
<text x="94.60" y="252.40" font-size="10.6" text-anchor="start" fill="#222">0.63</text>
<text x="133.70" y="252.40" font-size="10.6" text-anchor="start" fill="#222">0.41</text>
<text x="172.60" y="252.40" font-size="10.6" text-anchor="start" fill="#222">0.12</text>
<text x="84.40" y="265.53" font-size="11" text-anchor="end" fill="#222">LPE-PB n = 10</text>
<text x="94.60" y="265.53" font-size="10.6" text-anchor="start" fill="#222">0.51</text>
<text x="133.70" y="265.53" font-size="10.6" text-anchor="start" fill="#222">0.47</text>
<text x="172.60" y="265.53" font-size="10.6" text-anchor="start" fill="#222">0.10</text>
<text x="84.40" y="278.66" font-size="11" text-anchor="end" fill="#222">LPE-TB n = 77</text>
<text x="94.60" y="278.66" font-size="10.6" text-anchor="start" fill="#222">0.25</text>
<text x="133.70" y="278.66" font-size="10.6" text-anchor="start" fill="#222">0.21</text>
<text x="172.60" y="278.66" font-size="10.6" text-anchor="start" fill="#222">0.11</text>
<text x="147.40" y="292.80" font-size="10.8" text-anchor="end" fill="#222">NP n = 733</text>
</g>
<g transform="translate(243,321.9)">
<text x="-0.20" y="11.70" font-size="16.5" text-anchor="start" font-weight="bold" fill="#000">E</text>
<text x="119.60" y="11.00" font-size="11" text-anchor="middle" fill="#222">PDNAS Validation Cohort</text>
<text x="119.60" y="23.10" font-size="11" text-anchor="middle" fill="#222">BP &amp; BMI</text>
<line x1="63.1" y1="149.60" x2="75.7" y2="149.60" stroke="#8A3377" stroke-width="2.6"/>
<line x1="63.1" y1="160.95" x2="75.7" y2="160.95" stroke="#C33C2D" stroke-width="2.6"/>
<line x1="63.1" y1="172.30" x2="75.7" y2="172.30" stroke="#E89C20" stroke-width="2.6"/>
<line x1="48.60" y1="173.40" x2="191.60" y2="34.40" stroke="#1a1a1a" stroke-width="1.1"/>
<polyline points="48.70,173.29 48.70,159.67 51.28,159.67 51.28,122.69 52.80,122.69 52.80,110.13 59.03,110.13 59.03,97.45 60.08,97.45 60.08,84.77 66.89,84.77 66.89,72.21 122.40,72.20 122.40,59.70 162.60,59.70 162.60,47.10 168.00,47.10 168.00,34.50 191.60,34.50" fill="none" stroke="#6C2D5F" stroke-width="1.7" stroke-linejoin="miter"/>
<polyline points="48.70,173.29 48.70,159.43 51.63,159.43 51.63,145.46 56.91,145.46 56.91,131.61 60.20,131.61 60.20,103.79 63.37,103.79 63.37,89.82 75.11,89.82 75.11,75.97 108.70,76.00 108.70,62.10 110.20,62.10 110.20,48.10 168.70,48.10 168.70,34.50 191.60,34.50" fill="none" stroke="#BF4434" stroke-width="1.7" stroke-linejoin="miter"/>
<polyline points="48.70,173.29 49.28,173.29 49.28,171.18 49.87,171.18 49.87,169.06 50.26,169.06 50.26,167.49 50.65,167.49 50.65,165.93 51.04,165.93 51.04,164.36 51.92,164.36 51.92,162.60 52.80,162.60 52.80,160.84 53.69,160.84 53.69,159.08 54.57,159.08 54.57,157.32 55.16,157.32 55.16,155.56 55.74,155.56 55.74,153.80 59.26,153.80 59.26,152.63 60.44,152.63 60.44,150.28 60.83,150.28 60.83,148.32 61.22,148.32 61.22,146.37 61.61,146.37 61.61,144.41 62.20,144.41 62.20,142.65 62.78,142.65 62.78,140.89 63.37,140.89 63.37,139.32 63.95,139.32 63.95,137.76 64.54,137.76 64.54,136.19 66.31,136.19 66.31,135.02 69.83,135.02 69.83,133.84 72.18,133.84 72.18,131.49 72.77,131.49 72.77,129.73 73.35,129.73 73.35,127.97 74.13,127.97 74.13,126.41 74.92,126.41 74.92,124.84 75.70,124.84 75.70,123.28 76.28,123.28 76.28,121.52 76.87,121.52 76.87,119.75 78.05,119.75 78.05,117.99 79.22,117.99 79.22,116.23 79.81,116.23 79.81,114.47 80.39,114.47 80.39,112.71 80.98,112.71 80.98,110.95 81.57,110.95 81.57,109.19 82.35,109.19 82.35,107.62 83.13,107.62 83.13,106.06 83.91,106.06 83.91,104.49 84.30,104.49 84.30,102.93 84.70,102.93 84.70,101.36 85.09,101.36 85.09,99.80 87.44,99.80 87.44,98.62 89.78,98.62 89.78,97.45 92.13,97.45 92.13,95.69 92.00,94.90 96.55,94.90 96.55,93.38 99.59,93.38 99.59,91.11 100.60,91.11 100.60,89.34 101.62,89.34 101.62,87.56 102.63,87.56 102.63,85.79 104.14,85.79 104.14,83.90 105.66,83.90 105.66,82.00 108.70,82.00 108.70,80.48 109.46,80.48 109.46,78.77 110.22,78.77 110.22,77.06 110.98,77.06 110.98,75.36 111.74,75.36 111.74,73.65 113.25,73.65 113.25,72.13 114.77,72.13 114.77,70.61 119.33,70.61 119.33,69.09 122.36,69.09 122.36,67.57 123.37,67.57 123.37,66.05 124.39,66.05 124.39,64.54 125.40,64.54 125.40,63.02 128.44,63.02 128.44,60.74 131.47,60.74 131.47,59.22 137.55,59.22 137.55,58.46 138.31,58.46 138.31,56.95 139.07,56.95 139.07,55.43 140.58,55.43 140.58,53.15 143.62,53.15 143.62,52.39 146.66,52.39 146.66,50.87 152.73,50.87 152.73,49.36 154.25,49.36 154.25,47.46 155.77,47.46 155.77,45.56 158.80,45.56 158.80,44.80 166.39,44.80 166.39,44.50 169.43,44.50 169.43,43.28 170.19,43.28 170.19,41.39 170.95,41.39 170.95,39.49 177.02,39.49 181.58,39.49 181.58,38.73 184.61,38.73 184.61,37.21 189.17,37.21 189.17,35.69 191.45,35.69 191.45,34.48" fill="none" stroke="#E8982A" stroke-width="1.7" stroke-linejoin="miter"/>
<rect x="41.7" y="27.5" width="156.8" height="152.6" fill="none" stroke="#777" stroke-width="0.95"/>
<line x1="39.6" y1="173.40" x2="41.7" y2="173.40" stroke="#333" stroke-width="0.8"/>
<line x1="48.60" y1="180.1" x2="48.60" y2="182.2" stroke="#333" stroke-width="0.8"/>
<text x="37.90" y="176.70" font-size="9.6" text-anchor="end" fill="#333">0.0</text>
<text x="48.80" y="190.80" font-size="9.6" text-anchor="middle" fill="#333">0.0</text>
<line x1="39.6" y1="145.60" x2="41.7" y2="145.60" stroke="#333" stroke-width="0.8"/>
<line x1="77.20" y1="180.1" x2="77.20" y2="182.2" stroke="#333" stroke-width="0.8"/>
<text x="37.90" y="148.90" font-size="9.6" text-anchor="end" fill="#333">0.2</text>
<text x="77.40" y="190.80" font-size="9.6" text-anchor="middle" fill="#333">0.2</text>
<line x1="39.6" y1="117.80" x2="41.7" y2="117.80" stroke="#333" stroke-width="0.8"/>
<line x1="105.80" y1="180.1" x2="105.80" y2="182.2" stroke="#333" stroke-width="0.8"/>
<text x="37.90" y="121.10" font-size="9.6" text-anchor="end" fill="#333">0.4</text>
<text x="106.00" y="190.80" font-size="9.6" text-anchor="middle" fill="#333">0.4</text>
<line x1="39.6" y1="90.00" x2="41.7" y2="90.00" stroke="#333" stroke-width="0.8"/>
<line x1="134.40" y1="180.1" x2="134.40" y2="182.2" stroke="#333" stroke-width="0.8"/>
<text x="37.90" y="93.30" font-size="9.6" text-anchor="end" fill="#333">0.6</text>
<text x="134.60" y="190.80" font-size="9.6" text-anchor="middle" fill="#333">0.6</text>
<line x1="39.6" y1="62.20" x2="41.7" y2="62.20" stroke="#333" stroke-width="0.8"/>
<line x1="163.00" y1="180.1" x2="163.00" y2="182.2" stroke="#333" stroke-width="0.8"/>
<text x="37.90" y="65.50" font-size="9.6" text-anchor="end" fill="#333">0.8</text>
<text x="163.20" y="190.80" font-size="9.6" text-anchor="middle" fill="#333">0.8</text>
<line x1="39.6" y1="34.40" x2="41.7" y2="34.40" stroke="#333" stroke-width="0.8"/>
<line x1="191.60" y1="180.1" x2="191.60" y2="182.2" stroke="#333" stroke-width="0.8"/>
<text x="37.90" y="37.70" font-size="9.6" text-anchor="end" fill="#333">1.0</text>
<text x="191.80" y="190.80" font-size="9.6" text-anchor="middle" fill="#333">1.0</text>
<text x="118.10" y="203.40" font-size="10.7" text-anchor="middle" fill="#222">1 - Specificity</text>
<text x="0" y="0" font-size="10.7" text-anchor="middle" fill="#222" transform="translate(20.3,105.3) rotate(-90)">Sensitivity</text>
<text x="195.20" y="139.50" font-size="10.8" text-anchor="end" font-weight="bold" fill="#111">AUC [CI]</text>
<line x1="150.6" y1="140.8" x2="195.2" y2="140.8" stroke="#111" stroke-width="0.9"/>
<text x="79.20" y="152.90" font-size="9.6" text-anchor="start" fill="#222">EPE</text>
<text x="126.20" y="152.90" font-size="9.6" text-anchor="start" fill="#222">0.78</text>
<text x="195.00" y="152.90" font-size="9.6" text-anchor="end" fill="#222">[0.65,0.91]</text>
<text x="79.20" y="164.50" font-size="9.6" text-anchor="start" fill="#222">LPE-PB</text>
<text x="126.20" y="164.50" font-size="9.6" text-anchor="start" fill="#222">0.78</text>
<text x="195.00" y="164.50" font-size="9.6" text-anchor="end" fill="#222">[0.68,0.90]</text>
<text x="79.20" y="175.90" font-size="9.6" text-anchor="start" fill="#222">LPE-TB</text>
<text x="126.20" y="175.90" font-size="9.6" text-anchor="start" fill="#222">0.67</text>
<text x="195.00" y="175.90" font-size="9.6" text-anchor="end" fill="#222">[0.63,0.71]</text>
<text x="144.20" y="225.80" font-size="10.8" text-anchor="middle" font-weight="bold" fill="#111">Sensitivity at</text>
<text x="92.40" y="238.10" font-size="9.6" text-anchor="end" fill="#222">Specificity</text>
<text x="95.20" y="238.90" font-size="10.6" text-anchor="start" font-weight="bold" fill="#111">0.70</text>
<text x="133.90" y="238.90" font-size="10.6" text-anchor="start" font-weight="bold" fill="#111">0.80</text>
<text x="172.70" y="238.90" font-size="10.6" text-anchor="start" font-weight="bold" fill="#111">0.90</text>
<rect x="90.6" y="241.1" width="106.5" height="40.3" fill="none" stroke="#888" stroke-width="0.9"/>
<text x="84.40" y="252.40" font-size="11" text-anchor="end" fill="#222">EPE n = 11</text>
<text x="94.60" y="252.40" font-size="10.6" text-anchor="start" fill="#222">0.73</text>
<text x="133.70" y="252.40" font-size="10.6" text-anchor="start" fill="#222">0.73</text>
<text x="172.60" y="252.40" font-size="10.6" text-anchor="start" fill="#222">0.64</text>
<text x="84.40" y="265.53" font-size="11" text-anchor="end" fill="#222">LPE-PB n = 10</text>
<text x="94.60" y="265.53" font-size="10.6" text-anchor="start" fill="#222">0.71</text>
<text x="133.70" y="265.53" font-size="10.6" text-anchor="start" fill="#222">0.70</text>
<text x="172.60" y="265.53" font-size="10.6" text-anchor="start" fill="#222">0.55</text>
<text x="84.40" y="278.66" font-size="11" text-anchor="end" fill="#222">LPE-TB n = 77</text>
<text x="94.60" y="278.66" font-size="10.6" text-anchor="start" fill="#222">0.55</text>
<text x="133.70" y="278.66" font-size="10.6" text-anchor="start" fill="#222">0.38</text>
<text x="172.60" y="278.66" font-size="10.6" text-anchor="start" fill="#222">0.24</text>
<text x="147.40" y="292.80" font-size="10.8" text-anchor="end" fill="#222">NP n = 733</text>
</g>
<g transform="translate(486,321.9)">
<text x="-0.20" y="11.70" font-size="16.5" text-anchor="start" font-weight="bold" fill="#000">F</text>
<text x="119.60" y="11.00" font-size="11" text-anchor="middle" fill="#222">PDNAS Validation Cohort</text>
<text x="119.60" y="23.10" font-size="11" text-anchor="middle" fill="#222">Combined</text>
<line x1="63.1" y1="149.60" x2="75.7" y2="149.60" stroke="#8A3377" stroke-width="2.6"/>
<line x1="63.1" y1="160.95" x2="75.7" y2="160.95" stroke="#C33C2D" stroke-width="2.6"/>
<line x1="63.1" y1="172.30" x2="75.7" y2="172.30" stroke="#E89C20" stroke-width="2.6"/>
<line x1="48.60" y1="173.40" x2="191.60" y2="34.40" stroke="#1a1a1a" stroke-width="1.1"/>
<polyline points="48.58,173.24 48.58,147.99 52.32,147.99 52.32,135.37 56.49,135.37 56.49,110.12 58.29,110.12 58.29,97.49 62.45,97.49 62.45,84.87 66.89,84.87 66.89,72.24 71.75,72.24 71.75,59.62 107.20,59.60 107.20,47.00 139.40,47.00 139.40,34.50 191.60,34.50" fill="none" stroke="#6C2D5F" stroke-width="1.7" stroke-linejoin="miter"/>
<polyline points="48.58,173.24 50.24,173.24 50.24,159.37 53.02,159.37 53.02,131.62 60.65,131.62 60.65,117.75 66.89,117.75 66.89,103.74 73.41,103.74 73.41,89.86 74.52,89.86 74.52,62.11 99.80,62.10 99.80,48.30 117.20,48.30 117.20,34.50 191.60,34.50" fill="none" stroke="#BF4434" stroke-width="1.7" stroke-linejoin="miter"/>
<polyline points="48.58,173.24 49.83,173.24 49.83,171.30 51.07,171.30 51.07,169.36 52.32,169.36 52.32,167.42 53.71,167.42 53.71,165.33 55.10,165.33 55.10,163.25 56.02,163.25 56.02,161.40 56.95,161.40 56.95,159.56 57.87,159.56 57.87,157.71 59.26,157.71 59.26,156.32 60.65,156.32 60.65,154.93 62.03,154.93 62.03,152.85 63.42,152.85 63.42,150.77 64.81,150.77 64.81,148.69 66.20,148.69 66.20,146.61 67.24,146.61 67.24,144.53 68.28,144.53 68.28,142.44 69.32,142.44 69.32,140.36 70.36,140.36 70.36,138.28 71.75,138.28 71.75,136.20 73.14,136.20 73.14,134.12 73.83,134.12 73.83,132.27 74.53,132.27 74.53,130.42 75.22,130.42 75.22,128.57 75.91,128.57 75.91,126.72 76.61,126.72 76.61,124.87 77.30,124.87 77.30,123.02 78.34,123.02 78.34,120.94 79.38,120.94 79.38,118.86 84.23,118.86 84.23,118.16 85.62,118.16 85.62,116.43 87.01,116.43 87.01,114.70 88.40,114.70 88.40,113.31 89.78,113.31 89.78,111.92 91.17,111.92 91.17,110.53 92.56,110.53 92.56,109.15 93.94,109.15 93.94,107.76 95.33,107.76 95.33,106.37 96.72,106.37 96.72,104.98 98.11,104.98 98.11,103.60 99.50,103.60 99.50,102.21 100.88,102.21 100.88,100.82 103.50,100.82 103.50,98.75 106.13,98.75 106.13,96.67 108.35,96.67 108.35,94.45 110.57,94.45 110.57,92.23 111.68,92.23 111.68,90.01 112.79,90.01 112.79,87.79 115.01,87.79 115.01,85.58 117.23,85.58 117.23,83.36 119.44,83.36 119.44,81.14 121.66,81.14 121.66,78.92 123.88,78.92 123.88,76.70 126.10,76.70 126.10,74.48 127.21,74.48 127.21,72.26 128.32,72.26 128.32,70.04 132.76,70.04 132.76,67.82 133.87,67.82 133.87,65.60 134.98,65.60 134.98,63.38 136.09,63.38 136.09,61.17 137.20,61.17 137.20,58.95 139.42,58.95 139.42,56.73 141.64,56.73 141.64,54.51 143.85,54.51 143.85,52.84 146.07,52.84 146.07,51.18 150.51,51.18 150.51,50.07 154.95,50.07 154.95,48.96 159.39,48.96 159.39,46.74 163.82,46.74 163.82,44.52 168.26,44.52 168.26,43.41 172.70,43.41 172.70,42.30 177.14,42.30 177.14,41.19 181.58,41.19 181.58,40.09 186.01,40.09 186.01,38.98 187.68,38.98 187.68,36.76 189.34,36.76 189.34,34.54" fill="none" stroke="#E8982A" stroke-width="1.7" stroke-linejoin="miter"/>
<rect x="41.7" y="27.5" width="156.8" height="152.6" fill="none" stroke="#777" stroke-width="0.95"/>
<line x1="39.6" y1="173.40" x2="41.7" y2="173.40" stroke="#333" stroke-width="0.8"/>
<line x1="48.60" y1="180.1" x2="48.60" y2="182.2" stroke="#333" stroke-width="0.8"/>
<text x="37.90" y="176.70" font-size="9.6" text-anchor="end" fill="#333">0.0</text>
<text x="48.80" y="190.80" font-size="9.6" text-anchor="middle" fill="#333">0.0</text>
<line x1="39.6" y1="145.60" x2="41.7" y2="145.60" stroke="#333" stroke-width="0.8"/>
<line x1="77.20" y1="180.1" x2="77.20" y2="182.2" stroke="#333" stroke-width="0.8"/>
<text x="37.90" y="148.90" font-size="9.6" text-anchor="end" fill="#333">0.2</text>
<text x="77.40" y="190.80" font-size="9.6" text-anchor="middle" fill="#333">0.2</text>
<line x1="39.6" y1="117.80" x2="41.7" y2="117.80" stroke="#333" stroke-width="0.8"/>
<line x1="105.80" y1="180.1" x2="105.80" y2="182.2" stroke="#333" stroke-width="0.8"/>
<text x="37.90" y="121.10" font-size="9.6" text-anchor="end" fill="#333">0.4</text>
<text x="106.00" y="190.80" font-size="9.6" text-anchor="middle" fill="#333">0.4</text>
<line x1="39.6" y1="90.00" x2="41.7" y2="90.00" stroke="#333" stroke-width="0.8"/>
<line x1="134.40" y1="180.1" x2="134.40" y2="182.2" stroke="#333" stroke-width="0.8"/>
<text x="37.90" y="93.30" font-size="9.6" text-anchor="end" fill="#333">0.6</text>
<text x="134.60" y="190.80" font-size="9.6" text-anchor="middle" fill="#333">0.6</text>
<line x1="39.6" y1="62.20" x2="41.7" y2="62.20" stroke="#333" stroke-width="0.8"/>
<line x1="163.00" y1="180.1" x2="163.00" y2="182.2" stroke="#333" stroke-width="0.8"/>
<text x="37.90" y="65.50" font-size="9.6" text-anchor="end" fill="#333">0.8</text>
<text x="163.20" y="190.80" font-size="9.6" text-anchor="middle" fill="#333">0.8</text>
<line x1="39.6" y1="34.40" x2="41.7" y2="34.40" stroke="#333" stroke-width="0.8"/>
<line x1="191.60" y1="180.1" x2="191.60" y2="182.2" stroke="#333" stroke-width="0.8"/>
<text x="37.90" y="37.70" font-size="9.6" text-anchor="end" fill="#333">1.0</text>
<text x="191.80" y="190.80" font-size="9.6" text-anchor="middle" fill="#333">1.0</text>
<text x="118.10" y="203.40" font-size="10.7" text-anchor="middle" fill="#222">1 - Specificity</text>
<text x="0" y="0" font-size="10.7" text-anchor="middle" fill="#222" transform="translate(20.3,105.3) rotate(-90)">Sensitivity</text>
<text x="195.20" y="139.50" font-size="10.8" text-anchor="end" font-weight="bold" fill="#111">AUC [CI]</text>
<line x1="150.6" y1="140.8" x2="195.2" y2="140.8" stroke="#111" stroke-width="0.9"/>
<text x="79.20" y="152.90" font-size="9.6" text-anchor="start" fill="#222">EPE</text>
<text x="126.20" y="152.90" font-size="9.6" text-anchor="start" fill="#222">0.85</text>
<text x="195.00" y="152.90" font-size="9.6" text-anchor="end" fill="#222">[0.77,0.94]</text>
<text x="79.20" y="164.50" font-size="9.6" text-anchor="start" fill="#222">LPE-PB</text>
<text x="126.20" y="164.50" font-size="9.6" text-anchor="start" fill="#222">0.84</text>
<text x="195.00" y="164.50" font-size="9.6" text-anchor="end" fill="#222">[0.78,0.91]</text>
<text x="79.20" y="175.90" font-size="9.6" text-anchor="start" fill="#222">LPE-TB</text>
<text x="126.20" y="175.90" font-size="9.6" text-anchor="start" fill="#222">0.62</text>
<text x="195.00" y="175.90" font-size="9.6" text-anchor="end" fill="#222">[0.58,0.66]</text>
<text x="144.20" y="225.80" font-size="10.8" text-anchor="middle" font-weight="bold" fill="#111">Sensitivity at</text>
<text x="92.40" y="238.10" font-size="9.6" text-anchor="end" fill="#222">Specificity</text>
<text x="95.20" y="238.90" font-size="10.6" text-anchor="start" font-weight="bold" fill="#111">0.70</text>
<text x="133.90" y="238.90" font-size="10.6" text-anchor="start" font-weight="bold" fill="#111">0.80</text>
<text x="172.70" y="238.90" font-size="10.6" text-anchor="start" font-weight="bold" fill="#111">0.90</text>
<rect x="90.6" y="241.1" width="106.5" height="40.3" fill="none" stroke="#888" stroke-width="0.9"/>
<text x="84.40" y="252.40" font-size="11" text-anchor="end" fill="#222">EPE n = 11</text>
<text x="94.60" y="252.40" font-size="10.6" text-anchor="start" fill="#222">0.82</text>
<text x="133.70" y="252.40" font-size="10.6" text-anchor="start" fill="#222">0.82</text>
<text x="172.60" y="252.40" font-size="10.6" text-anchor="start" fill="#222">0.61</text>
<text x="84.40" y="265.53" font-size="11" text-anchor="end" fill="#222">LPE-PB n = 10</text>
<text x="94.60" y="265.53" font-size="10.6" text-anchor="start" fill="#222">0.81</text>
<text x="133.70" y="265.53" font-size="10.6" text-anchor="start" fill="#222">0.80</text>
<text x="172.60" y="265.53" font-size="10.6" text-anchor="start" fill="#222">0.41</text>
<text x="84.40" y="278.66" font-size="11" text-anchor="end" fill="#222">LPE-TB n = 77</text>
<text x="94.60" y="278.66" font-size="10.6" text-anchor="start" fill="#222">0.44</text>
<text x="133.70" y="278.66" font-size="10.6" text-anchor="start" fill="#222">0.36</text>
<text x="172.60" y="278.66" font-size="10.6" text-anchor="start" fill="#222">0.15</text>
<text x="147.40" y="292.80" font-size="10.8" text-anchor="end" fill="#222">NP n = 733</text>
</g>
<g transform="translate(0,643.8)">
<text x="-0.20" y="11.70" font-size="16.5" text-anchor="start" font-weight="bold" fill="#000">G</text>
<text x="119.60" y="11.00" font-size="11" text-anchor="middle" fill="#222">External Validation Cohort</text>
<text x="119.60" y="23.10" font-size="11" text-anchor="middle" fill="#222">Nucleosome profiles</text>
<line x1="63.1" y1="149.60" x2="75.7" y2="149.60" stroke="#8A3377" stroke-width="2.6"/>
<line x1="63.1" y1="160.95" x2="75.7" y2="160.95" stroke="#C33C2D" stroke-width="2.6"/>
<line x1="63.1" y1="172.30" x2="75.7" y2="172.30" stroke="#E89C20" stroke-width="2.6"/>
<line x1="48.60" y1="173.40" x2="191.60" y2="34.40" stroke="#1a1a1a" stroke-width="1.1"/>
<polyline points="48.70,173.20 50.40,173.20 50.40,164.60 52.20,164.60 52.20,155.80 52.80,155.80 52.80,147.10 55.70,147.10 55.70,138.40 59.20,138.40 59.20,129.70 61.50,129.70 61.50,121.10 62.10,121.10 62.10,112.30 63.30,112.30 63.30,103.60 68.50,103.60 68.50,94.70 73.80,94.70 73.80,77.60 77.90,77.60 77.90,68.90 79.00,68.90 79.00,60.30 90.10,60.30 90.10,51.60 118.80,51.60 118.80,34.20 191.60,34.20" fill="none" stroke="#6C2D5F" stroke-width="1.7" stroke-linejoin="miter"/>
<polyline points="48.67,173.19 48.67,166.89 55.68,166.89 55.68,160.58 67.36,160.58 67.36,154.27 73.78,154.27 73.78,141.66 79.04,141.66 79.04,135.24 86.63,135.24 86.63,110.01 88.38,110.01 88.38,103.70 97.10,103.70 97.10,91.00 100.60,91.00 100.60,84.70 106.50,84.70 106.50,78.30 110.00,78.30 110.00,59.00 115.20,59.00 115.20,53.00 123.00,53.00 123.00,46.60 150.50,46.60 150.50,40.20 151.60,40.20 151.60,34.20 191.60,34.20" fill="none" stroke="#BF4434" stroke-width="1.7" stroke-linejoin="miter"/>
<polyline points="48.67,173.19 48.67,167.35 52.18,167.35 52.18,155.79 68.53,155.79 68.53,144.23 70.86,144.23 70.86,132.67 74.36,132.67 74.36,120.99 87.21,120.99 87.21,115.27 88.96,115.27 88.96,109.43 97.72,109.43 97.72,103.70 115.20,103.70 115.20,97.90 130.00,97.90 130.00,91.80 148.10,91.80 148.10,86.30 149.30,86.30 149.30,74.70 157.50,74.70 157.50,69.00 160.40,69.00 160.40,63.20 166.20,63.20 166.20,57.40 180.20,57.40 180.20,51.60 183.70,51.60 183.70,45.80 185.50,45.80 185.50,40.00 186.00,40.00 186.00,34.20 191.60,34.20" fill="none" stroke="#E8982A" stroke-width="1.7" stroke-linejoin="miter"/>
<rect x="41.7" y="27.5" width="156.8" height="152.6" fill="none" stroke="#777" stroke-width="0.95"/>
<line x1="39.6" y1="173.40" x2="41.7" y2="173.40" stroke="#333" stroke-width="0.8"/>
<line x1="48.60" y1="180.1" x2="48.60" y2="182.2" stroke="#333" stroke-width="0.8"/>
<text x="37.90" y="176.70" font-size="9.6" text-anchor="end" fill="#333">0.0</text>
<text x="48.80" y="190.80" font-size="9.6" text-anchor="middle" fill="#333">0.0</text>
<line x1="39.6" y1="145.60" x2="41.7" y2="145.60" stroke="#333" stroke-width="0.8"/>
<line x1="77.20" y1="180.1" x2="77.20" y2="182.2" stroke="#333" stroke-width="0.8"/>
<text x="37.90" y="148.90" font-size="9.6" text-anchor="end" fill="#333">0.2</text>
<text x="77.40" y="190.80" font-size="9.6" text-anchor="middle" fill="#333">0.2</text>
<line x1="39.6" y1="117.80" x2="41.7" y2="117.80" stroke="#333" stroke-width="0.8"/>
<line x1="105.80" y1="180.1" x2="105.80" y2="182.2" stroke="#333" stroke-width="0.8"/>
<text x="37.90" y="121.10" font-size="9.6" text-anchor="end" fill="#333">0.4</text>
<text x="106.00" y="190.80" font-size="9.6" text-anchor="middle" fill="#333">0.4</text>
<line x1="39.6" y1="90.00" x2="41.7" y2="90.00" stroke="#333" stroke-width="0.8"/>
<line x1="134.40" y1="180.1" x2="134.40" y2="182.2" stroke="#333" stroke-width="0.8"/>
<text x="37.90" y="93.30" font-size="9.6" text-anchor="end" fill="#333">0.6</text>
<text x="134.60" y="190.80" font-size="9.6" text-anchor="middle" fill="#333">0.6</text>
<line x1="39.6" y1="62.20" x2="41.7" y2="62.20" stroke="#333" stroke-width="0.8"/>
<line x1="163.00" y1="180.1" x2="163.00" y2="182.2" stroke="#333" stroke-width="0.8"/>
<text x="37.90" y="65.50" font-size="9.6" text-anchor="end" fill="#333">0.8</text>
<text x="163.20" y="190.80" font-size="9.6" text-anchor="middle" fill="#333">0.8</text>
<line x1="39.6" y1="34.40" x2="41.7" y2="34.40" stroke="#333" stroke-width="0.8"/>
<line x1="191.60" y1="180.1" x2="191.60" y2="182.2" stroke="#333" stroke-width="0.8"/>
<text x="37.90" y="37.70" font-size="9.6" text-anchor="end" fill="#333">1.0</text>
<text x="191.80" y="190.80" font-size="9.6" text-anchor="middle" fill="#333">1.0</text>
<text x="118.10" y="203.40" font-size="10.7" text-anchor="middle" fill="#222">1 - Specificity</text>
<text x="0" y="0" font-size="10.7" text-anchor="middle" fill="#222" transform="translate(20.3,105.3) rotate(-90)">Sensitivity</text>
<text x="195.20" y="139.50" font-size="10.8" text-anchor="end" font-weight="bold" fill="#111">AUC [CI]</text>
<line x1="150.6" y1="140.8" x2="195.2" y2="140.8" stroke="#111" stroke-width="0.9"/>
<text x="79.20" y="152.90" font-size="9.6" text-anchor="start" fill="#222">EPE</text>
<text x="126.20" y="152.90" font-size="9.6" text-anchor="start" fill="#222">0.83</text>
<text x="195.00" y="152.90" font-size="9.6" text-anchor="end" fill="#222">[0.77,0.90]</text>
<text x="79.20" y="164.50" font-size="9.6" text-anchor="start" fill="#222">LPE-PB</text>
<text x="126.20" y="164.50" font-size="9.6" text-anchor="start" fill="#222">0.67</text>
<text x="195.00" y="164.50" font-size="9.6" text-anchor="end" fill="#222">[0.60,0.74]</text>
<text x="79.20" y="175.90" font-size="9.6" text-anchor="start" fill="#222">LPE-TB</text>
<text x="126.20" y="175.90" font-size="9.6" text-anchor="start" fill="#222">0.53</text>
<text x="195.00" y="175.90" font-size="9.6" text-anchor="end" fill="#222">[0.43,0.63]</text>
<text x="144.20" y="225.80" font-size="10.8" text-anchor="middle" font-weight="bold" fill="#111">Sensitivity at</text>
<text x="92.40" y="238.10" font-size="9.6" text-anchor="end" fill="#222">Specificity</text>
<text x="95.20" y="238.90" font-size="10.6" text-anchor="start" font-weight="bold" fill="#111">0.70</text>
<text x="133.90" y="238.90" font-size="10.6" text-anchor="start" font-weight="bold" fill="#111">0.80</text>
<text x="172.70" y="238.90" font-size="10.6" text-anchor="start" font-weight="bold" fill="#111">0.90</text>
<rect x="90.6" y="241.1" width="106.5" height="40.3" fill="none" stroke="#888" stroke-width="0.9"/>
<text x="84.40" y="252.40" font-size="11" text-anchor="end" fill="#222">EPE n = 16</text>
<text x="94.60" y="252.40" font-size="10.6" text-anchor="start" fill="#222">0.88</text>
<text x="133.70" y="252.40" font-size="10.6" text-anchor="start" fill="#222">0.69</text>
<text x="172.60" y="252.40" font-size="10.6" text-anchor="start" fill="#222">0.44</text>
<text x="84.40" y="265.53" font-size="11" text-anchor="end" fill="#222">LPE-PB n = 22</text>
<text x="94.60" y="265.53" font-size="10.6" text-anchor="start" fill="#222">0.50</text>
<text x="133.70" y="265.53" font-size="10.6" text-anchor="start" fill="#222">0.23</text>
<text x="172.60" y="265.53" font-size="10.6" text-anchor="start" fill="#222">0.09</text>
<text x="84.40" y="278.66" font-size="11" text-anchor="end" fill="#222">LPE-TB n = 24</text>
<text x="94.60" y="278.66" font-size="10.6" text-anchor="start" fill="#222">0.46</text>
<text x="133.70" y="278.66" font-size="10.6" text-anchor="start" fill="#222">0.38</text>
<text x="172.60" y="278.66" font-size="10.6" text-anchor="start" fill="#222">0.12</text>
<text x="147.40" y="292.80" font-size="10.8" text-anchor="end" fill="#222">NP n = 79</text>
</g>
<g transform="translate(243,643.8)">
<text x="-0.20" y="11.70" font-size="16.5" text-anchor="start" font-weight="bold" fill="#000">H</text>
<text x="119.60" y="11.00" font-size="11" text-anchor="middle" fill="#222">External Validation Cohort</text>
<text x="119.60" y="23.10" font-size="11" text-anchor="middle" fill="#222">BP &amp; BMI</text>
<line x1="63.1" y1="149.60" x2="75.7" y2="149.60" stroke="#8A3377" stroke-width="2.6"/>
<line x1="63.1" y1="160.95" x2="75.7" y2="160.95" stroke="#C33C2D" stroke-width="2.6"/>
<line x1="63.1" y1="172.30" x2="75.7" y2="172.30" stroke="#E89C20" stroke-width="2.6"/>
<line x1="48.60" y1="173.40" x2="191.60" y2="34.40" stroke="#1a1a1a" stroke-width="1.1"/>
<polyline points="48.67,173.19 48.67,138.39 50.42,138.39 50.42,121.11 52.76,121.11 52.76,112.35 56.26,112.35 56.26,103.70 58.01,103.70 58.01,95.02 59.77,95.02 59.77,86.38 68.53,86.38 68.53,77.62 77.28,77.62 77.28,68.97 83.71,68.97 83.71,60.33 92.47,60.33 92.47,51.57 101.23,51.57 101.23,42.93 122.90,42.90 122.90,34.20 191.60,34.20" fill="none" stroke="#6C2D5F" stroke-width="1.7" stroke-linejoin="miter"/>
<polyline points="48.67,173.19 48.82,173.19 48.82,166.88 48.97,166.88 48.97,160.58 49.11,160.58 49.11,154.28 49.26,154.28 49.26,147.97 49.84,147.97 49.84,128.93 55.68,128.93 55.68,122.62 58.60,122.62 58.60,116.32 59.77,116.32 59.77,110.01 62.10,110.01 62.10,103.70 65.02,103.70 65.02,103.66 65.61,103.66 65.61,91.05 68.53,91.05 68.53,84.74 75.53,84.74 75.53,72.01 85.46,72.01 85.46,65.70 92.47,65.70 92.47,59.40 106.50,59.40 106.50,53.20 122.90,53.20 122.90,46.90 133.50,46.90 133.50,40.60 137.50,40.60 137.50,34.20 191.60,34.20" fill="none" stroke="#BF4434" stroke-width="1.7" stroke-linejoin="miter"/>
<polyline points="48.67,173.19 51.24,173.19 51.24,161.63 52.18,161.63 52.18,155.79 55.68,155.79 55.68,149.95 58.01,149.95 58.01,144.23 61.52,144.23 61.52,126.83 65.61,126.83 65.61,115.27 69.11,115.27 69.11,103.70 74.36,103.70 73.78,103.66 73.78,97.94 75.53,97.94 75.83,97.94 75.83,92.10 76.12,92.10 76.12,86.26 77.87,86.26 77.87,80.42 82.54,80.42 82.54,74.70 90.72,74.70 90.72,68.97 93.64,68.97 93.64,57.29 97.72,57.29 97.72,51.57 101.23,51.57 101.23,45.73 106.48,45.73 106.48,40.01 109.99,40.01 109.99,34.17 191.60,34.20" fill="none" stroke="#E8982A" stroke-width="1.7" stroke-linejoin="miter"/>
<rect x="41.7" y="27.5" width="156.8" height="152.6" fill="none" stroke="#777" stroke-width="0.95"/>
<line x1="39.6" y1="173.40" x2="41.7" y2="173.40" stroke="#333" stroke-width="0.8"/>
<line x1="48.60" y1="180.1" x2="48.60" y2="182.2" stroke="#333" stroke-width="0.8"/>
<text x="37.90" y="176.70" font-size="9.6" text-anchor="end" fill="#333">0.0</text>
<text x="48.80" y="190.80" font-size="9.6" text-anchor="middle" fill="#333">0.0</text>
<line x1="39.6" y1="145.60" x2="41.7" y2="145.60" stroke="#333" stroke-width="0.8"/>
<line x1="77.20" y1="180.1" x2="77.20" y2="182.2" stroke="#333" stroke-width="0.8"/>
<text x="37.90" y="148.90" font-size="9.6" text-anchor="end" fill="#333">0.2</text>
<text x="77.40" y="190.80" font-size="9.6" text-anchor="middle" fill="#333">0.2</text>
<line x1="39.6" y1="117.80" x2="41.7" y2="117.80" stroke="#333" stroke-width="0.8"/>
<line x1="105.80" y1="180.1" x2="105.80" y2="182.2" stroke="#333" stroke-width="0.8"/>
<text x="37.90" y="121.10" font-size="9.6" text-anchor="end" fill="#333">0.4</text>
<text x="106.00" y="190.80" font-size="9.6" text-anchor="middle" fill="#333">0.4</text>
<line x1="39.6" y1="90.00" x2="41.7" y2="90.00" stroke="#333" stroke-width="0.8"/>
<line x1="134.40" y1="180.1" x2="134.40" y2="182.2" stroke="#333" stroke-width="0.8"/>
<text x="37.90" y="93.30" font-size="9.6" text-anchor="end" fill="#333">0.6</text>
<text x="134.60" y="190.80" font-size="9.6" text-anchor="middle" fill="#333">0.6</text>
<line x1="39.6" y1="62.20" x2="41.7" y2="62.20" stroke="#333" stroke-width="0.8"/>
<line x1="163.00" y1="180.1" x2="163.00" y2="182.2" stroke="#333" stroke-width="0.8"/>
<text x="37.90" y="65.50" font-size="9.6" text-anchor="end" fill="#333">0.8</text>
<text x="163.20" y="190.80" font-size="9.6" text-anchor="middle" fill="#333">0.8</text>
<line x1="39.6" y1="34.40" x2="41.7" y2="34.40" stroke="#333" stroke-width="0.8"/>
<line x1="191.60" y1="180.1" x2="191.60" y2="182.2" stroke="#333" stroke-width="0.8"/>
<text x="37.90" y="37.70" font-size="9.6" text-anchor="end" fill="#333">1.0</text>
<text x="191.80" y="190.80" font-size="9.6" text-anchor="middle" fill="#333">1.0</text>
<text x="118.10" y="203.40" font-size="10.7" text-anchor="middle" fill="#222">1 - Specificity</text>
<text x="0" y="0" font-size="10.7" text-anchor="middle" fill="#222" transform="translate(20.3,105.3) rotate(-90)">Sensitivity</text>
<text x="195.20" y="139.50" font-size="10.8" text-anchor="end" font-weight="bold" fill="#111">AUC [CI]</text>
<line x1="150.6" y1="140.8" x2="195.2" y2="140.8" stroke="#111" stroke-width="0.9"/>
<text x="79.20" y="152.90" font-size="9.6" text-anchor="start" fill="#222">EPE</text>
<text x="126.20" y="152.90" font-size="9.6" text-anchor="start" fill="#222">0.87</text>
<text x="195.00" y="152.90" font-size="9.6" text-anchor="end" fill="#222">[0.81,0.93]</text>
<text x="79.20" y="164.50" font-size="9.6" text-anchor="start" fill="#222">LPE-PB</text>
<text x="126.20" y="164.50" font-size="9.6" text-anchor="start" fill="#222">0.83</text>
<text x="195.00" y="164.50" font-size="9.6" text-anchor="end" fill="#222">[0.77,0.89]</text>
<text x="79.20" y="175.90" font-size="9.6" text-anchor="start" fill="#222">LPE-TB</text>
<text x="126.20" y="175.90" font-size="9.6" text-anchor="start" fill="#222">0.82</text>
<text x="195.00" y="175.90" font-size="9.6" text-anchor="end" fill="#222">[0.76,0.87]</text>
<text x="144.20" y="225.80" font-size="10.8" text-anchor="middle" font-weight="bold" fill="#111">Sensitivity at</text>
<text x="92.40" y="238.10" font-size="9.6" text-anchor="end" fill="#222">Specificity</text>
<text x="95.20" y="238.90" font-size="10.6" text-anchor="start" font-weight="bold" fill="#111">0.70</text>
<text x="133.90" y="238.90" font-size="10.6" text-anchor="start" font-weight="bold" fill="#111">0.80</text>
<text x="172.70" y="238.90" font-size="10.6" text-anchor="start" font-weight="bold" fill="#111">0.90</text>
<rect x="90.6" y="241.1" width="106.5" height="40.3" fill="none" stroke="#888" stroke-width="0.9"/>
<text x="84.40" y="252.40" font-size="11" text-anchor="end" fill="#222">EPE n = 16</text>
<text x="94.60" y="252.40" font-size="10.6" text-anchor="start" fill="#222">0.81</text>
<text x="133.70" y="252.40" font-size="10.6" text-anchor="start" fill="#222">0.69</text>
<text x="172.60" y="252.40" font-size="10.6" text-anchor="start" fill="#222">0.62</text>
<text x="84.40" y="265.53" font-size="11" text-anchor="end" fill="#222">LPE-PB n = 22</text>
<text x="94.60" y="265.53" font-size="10.6" text-anchor="start" fill="#222">0.77</text>
<text x="133.70" y="265.53" font-size="10.6" text-anchor="start" fill="#222">0.73</text>
<text x="172.60" y="265.53" font-size="10.6" text-anchor="start" fill="#222">0.50</text>
<text x="84.40" y="278.66" font-size="11" text-anchor="end" fill="#222">LPE-TB n = 24</text>
<text x="94.60" y="278.66" font-size="10.6" text-anchor="start" fill="#222">0.75</text>
<text x="133.70" y="278.66" font-size="10.6" text-anchor="start" fill="#222">0.62</text>
<text x="172.60" y="278.66" font-size="10.6" text-anchor="start" fill="#222">0.33</text>
<text x="147.40" y="292.80" font-size="10.8" text-anchor="end" fill="#222">NP n = 79</text>
</g>
<g transform="translate(486,643.8)">
<text x="-0.20" y="11.70" font-size="16.5" text-anchor="start" font-weight="bold" fill="#000">I</text>
<text x="119.60" y="11.00" font-size="11" text-anchor="middle" fill="#222">External Validation Cohort</text>
<text x="119.60" y="23.10" font-size="11" text-anchor="middle" fill="#222">Combined</text>
<line x1="63.1" y1="149.60" x2="75.7" y2="149.60" stroke="#8A3377" stroke-width="2.6"/>
<line x1="63.1" y1="160.95" x2="75.7" y2="160.95" stroke="#C33C2D" stroke-width="2.6"/>
<line x1="63.1" y1="172.30" x2="75.7" y2="172.30" stroke="#E89C20" stroke-width="2.6"/>
<line x1="48.60" y1="173.40" x2="191.60" y2="34.40" stroke="#1a1a1a" stroke-width="1.1"/>
<polyline points="48.60,173.20 48.60,138.50 52.40,138.50 52.40,129.80 54.50,129.80 54.50,121.00 56.20,121.00 56.20,112.30 59.70,112.30 59.77,77.62 63.27,77.62 63.27,68.97 70.86,68.97 70.86,42.93 99.47,42.93 99.47,34.17 191.60,34.20" fill="none" stroke="#6C2D5F" stroke-width="1.7" stroke-linejoin="miter"/>
<polyline points="48.60,173.20 49.00,173.20 49.00,154.30 52.40,154.30 52.40,147.90 59.70,147.90 59.70,141.60 60.50,141.60 60.50,129.00 61.80,129.00 61.80,122.70 63.10,122.70 63.10,103.70 68.60,103.70 68.60,97.40 70.28,97.35 70.28,91.05 72.03,91.05 72.03,78.43 81.37,78.43 81.37,72.13 90.72,72.13 90.72,65.82 102.98,65.82 102.98,59.40 123.01,59.40 123.01,53.09 138.77,53.09 138.77,46.78 140.53,46.78 140.53,40.48 153.37,40.48 153.37,34.17 191.33,34.17" fill="none" stroke="#BF4434" stroke-width="1.7" stroke-linejoin="miter"/>
<polyline points="48.60,173.20 49.80,173.20 49.80,167.40 50.70,167.40 50.70,161.60 52.40,161.60 52.40,155.80 52.40,155.10 59.70,155.10 59.70,138.50 60.50,138.50 60.50,132.70 61.00,132.70 61.00,128.60 61.80,128.60 61.80,126.90 62.60,126.90 62.60,121.10 63.90,121.10 63.90,115.30 65.20,115.30 65.20,109.50 66.90,109.50 66.90,103.70 84.88,103.66 84.88,97.94 99.47,97.94 99.47,92.10 102.98,92.10 102.98,86.38 114.07,86.38 114.07,80.54 115.24,80.54 115.24,74.70 122.83,74.70 122.83,68.97 123.01,68.97 128.26,68.97 128.26,63.13 138.77,63.13 138.77,57.29 144.61,57.29 144.61,51.57 151.62,51.57 151.62,45.73 155.12,45.73 155.12,40.01 174.98,40.01 174.98,34.17 191.33,34.17" fill="none" stroke="#E8982A" stroke-width="1.7" stroke-linejoin="miter"/>
<rect x="41.7" y="27.5" width="156.8" height="152.6" fill="none" stroke="#777" stroke-width="0.95"/>
<line x1="39.6" y1="173.40" x2="41.7" y2="173.40" stroke="#333" stroke-width="0.8"/>
<line x1="48.60" y1="180.1" x2="48.60" y2="182.2" stroke="#333" stroke-width="0.8"/>
<text x="37.90" y="176.70" font-size="9.6" text-anchor="end" fill="#333">0.0</text>
<text x="48.80" y="190.80" font-size="9.6" text-anchor="middle" fill="#333">0.0</text>
<line x1="39.6" y1="145.60" x2="41.7" y2="145.60" stroke="#333" stroke-width="0.8"/>
<line x1="77.20" y1="180.1" x2="77.20" y2="182.2" stroke="#333" stroke-width="0.8"/>
<text x="37.90" y="148.90" font-size="9.6" text-anchor="end" fill="#333">0.2</text>
<text x="77.40" y="190.80" font-size="9.6" text-anchor="middle" fill="#333">0.2</text>
<line x1="39.6" y1="117.80" x2="41.7" y2="117.80" stroke="#333" stroke-width="0.8"/>
<line x1="105.80" y1="180.1" x2="105.80" y2="182.2" stroke="#333" stroke-width="0.8"/>
<text x="37.90" y="121.10" font-size="9.6" text-anchor="end" fill="#333">0.4</text>
<text x="106.00" y="190.80" font-size="9.6" text-anchor="middle" fill="#333">0.4</text>
<line x1="39.6" y1="90.00" x2="41.7" y2="90.00" stroke="#333" stroke-width="0.8"/>
<line x1="134.40" y1="180.1" x2="134.40" y2="182.2" stroke="#333" stroke-width="0.8"/>
<text x="37.90" y="93.30" font-size="9.6" text-anchor="end" fill="#333">0.6</text>
<text x="134.60" y="190.80" font-size="9.6" text-anchor="middle" fill="#333">0.6</text>
<line x1="39.6" y1="62.20" x2="41.7" y2="62.20" stroke="#333" stroke-width="0.8"/>
<line x1="163.00" y1="180.1" x2="163.00" y2="182.2" stroke="#333" stroke-width="0.8"/>
<text x="37.90" y="65.50" font-size="9.6" text-anchor="end" fill="#333">0.8</text>
<text x="163.20" y="190.80" font-size="9.6" text-anchor="middle" fill="#333">0.8</text>
<line x1="39.6" y1="34.40" x2="41.7" y2="34.40" stroke="#333" stroke-width="0.8"/>
<line x1="191.60" y1="180.1" x2="191.60" y2="182.2" stroke="#333" stroke-width="0.8"/>
<text x="37.90" y="37.70" font-size="9.6" text-anchor="end" fill="#333">1.0</text>
<text x="191.80" y="190.80" font-size="9.6" text-anchor="middle" fill="#333">1.0</text>
<text x="118.10" y="203.40" font-size="10.7" text-anchor="middle" fill="#222">1 - Specificity</text>
<text x="0" y="0" font-size="10.7" text-anchor="middle" fill="#222" transform="translate(20.3,105.3) rotate(-90)">Sensitivity</text>
<text x="195.20" y="139.50" font-size="10.8" text-anchor="end" font-weight="bold" fill="#111">AUC [CI]</text>
<line x1="150.6" y1="140.8" x2="195.2" y2="140.8" stroke="#111" stroke-width="0.9"/>
<text x="79.20" y="152.90" font-size="9.6" text-anchor="start" fill="#222">EPE</text>
<text x="126.20" y="152.90" font-size="9.6" text-anchor="start" fill="#222">0.92</text>
<text x="195.00" y="152.90" font-size="9.6" text-anchor="end" fill="#222">[0.86,0.96]</text>
<text x="79.20" y="164.50" font-size="9.6" text-anchor="start" fill="#222">LPE-PB</text>
<text x="126.20" y="164.50" font-size="9.6" text-anchor="start" fill="#222">0.79</text>
<text x="195.00" y="164.50" font-size="9.6" text-anchor="end" fill="#222">[0.72,0.85]</text>
<text x="79.20" y="175.90" font-size="9.6" text-anchor="start" fill="#222">LPE-TB</text>
<text x="126.20" y="175.90" font-size="9.6" text-anchor="start" fill="#222">0.69</text>
<text x="195.00" y="175.90" font-size="9.6" text-anchor="end" fill="#222">[0.61,0.77]</text>
<text x="144.20" y="225.80" font-size="10.8" text-anchor="middle" font-weight="bold" fill="#111">Sensitivity at</text>
<text x="92.40" y="238.10" font-size="9.6" text-anchor="end" fill="#222">Specificity</text>
<text x="95.20" y="238.90" font-size="10.6" text-anchor="start" font-weight="bold" fill="#111">0.70</text>
<text x="133.90" y="238.90" font-size="10.6" text-anchor="start" font-weight="bold" fill="#111">0.80</text>
<text x="172.70" y="238.90" font-size="10.6" text-anchor="start" font-weight="bold" fill="#111">0.90</text>
<rect x="90.6" y="241.1" width="106.5" height="40.3" fill="none" stroke="#888" stroke-width="0.9"/>
<text x="84.40" y="252.40" font-size="11" text-anchor="end" fill="#222">EPE n = 16</text>
<text x="94.60" y="252.40" font-size="10.6" text-anchor="start" fill="#222">0.94</text>
<text x="133.70" y="252.40" font-size="10.6" text-anchor="start" fill="#222">0.94</text>
<text x="172.60" y="252.40" font-size="10.6" text-anchor="start" fill="#222">0.69</text>
<text x="84.40" y="265.53" font-size="11" text-anchor="end" fill="#222">LPE-PB n = 22</text>
<text x="94.60" y="265.53" font-size="10.6" text-anchor="start" fill="#222">0.77</text>
<text x="133.70" y="265.53" font-size="10.6" text-anchor="start" fill="#222">0.68</text>
<text x="172.60" y="265.53" font-size="10.6" text-anchor="start" fill="#222">0.50</text>
<text x="84.40" y="278.66" font-size="11" text-anchor="end" fill="#222">LPE-TB n = 24</text>
<text x="94.60" y="278.66" font-size="10.6" text-anchor="start" fill="#222">0.54</text>
<text x="133.70" y="278.66" font-size="10.6" text-anchor="start" fill="#222">0.50</text>
<text x="172.60" y="278.66" font-size="10.6" text-anchor="start" fill="#222">0.38</text>
<text x="147.40" y="292.80" font-size="10.8" text-anchor="end" fill="#222">NP n = 79</text>
</g>
</svg>
</body></html>
